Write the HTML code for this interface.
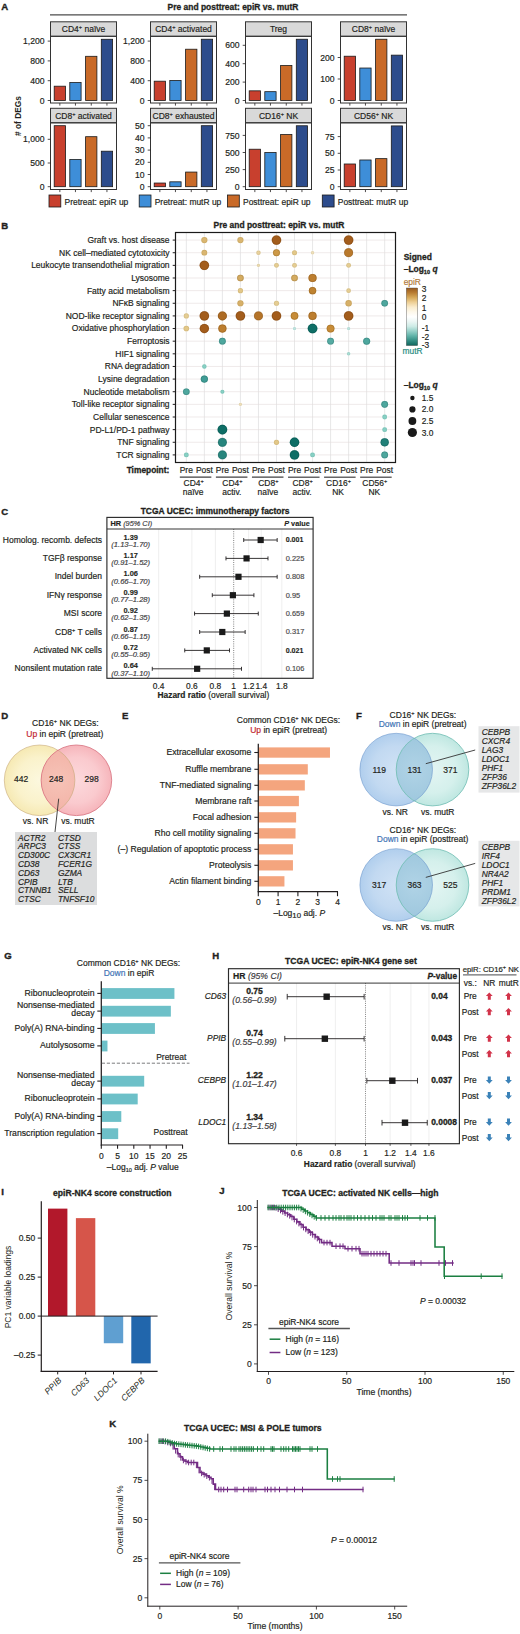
<!DOCTYPE html>
<html lang="en"><head><meta charset="utf-8"><title>Figure</title>
<style>
html,body{margin:0;padding:0;background:#fff;}
svg{display:block;font-family:"Liberation Sans",sans-serif;}
</style></head>
<body>
<svg width="520" height="1634" viewBox="0 0 520 1634" fill="#231f20">
<rect width="520" height="1634" fill="#fff"/>
<text x="1.20" y="10.20" font-size="9.6" font-weight="bold" stroke="#231f20" stroke-width="0.35">A</text>
<text x="233.00" y="10.00" font-size="8.45" text-anchor="middle" font-weight="bold" stroke="#231f20" stroke-width="0.3">Pre and posttreat: epiR vs. mutR</text>
<line x1="50.00" y1="14.90" x2="407.00" y2="14.90" stroke="#4d4d4d" stroke-width="1.2"/>
<rect x="50.50" y="21.80" width="66.00" height="14.50" fill="#d9d9d9" stroke="#333" stroke-width="1.0"/>
<text x="83.50" y="32.40" font-size="8.5" text-anchor="middle" stroke="#231f20" stroke-width="0.18" xml:space="preserve">CD4<tspan dy="-3.0" font-size="5.6">+</tspan><tspan dy="3.0"> naïve</tspan></text>
<rect x="54.20" y="86.19" width="11.30" height="14.31" fill="#c8402e" stroke="#1a1a1a" stroke-width="0.8"/>
<line x1="59.85" y1="103.00" x2="59.85" y2="105.60" stroke="#231f20" stroke-width="0.8"/>
<rect x="69.80" y="82.53" width="11.30" height="17.97" fill="#3e8ed8" stroke="#1a1a1a" stroke-width="0.8"/>
<line x1="75.45" y1="103.00" x2="75.45" y2="105.60" stroke="#231f20" stroke-width="0.8"/>
<rect x="85.60" y="56.30" width="11.30" height="44.20" fill="#c96a28" stroke="#1a1a1a" stroke-width="0.8"/>
<line x1="91.25" y1="103.00" x2="91.25" y2="105.60" stroke="#231f20" stroke-width="0.8"/>
<rect x="101.30" y="39.27" width="11.30" height="61.23" fill="#2d4c8c" stroke="#1a1a1a" stroke-width="0.8"/>
<line x1="106.95" y1="103.00" x2="106.95" y2="105.60" stroke="#231f20" stroke-width="0.8"/>
<rect x="50.50" y="36.30" width="66.00" height="66.70" fill="none" stroke="#333" stroke-width="1.0"/>
<line x1="47.70" y1="100.50" x2="50.50" y2="100.50" stroke="#231f20" stroke-width="0.8"/>
<text x="44.60" y="103.60" font-size="8.65" text-anchor="end" stroke="#231f20" stroke-width="0.18">0</text>
<line x1="47.70" y1="80.70" x2="50.50" y2="80.70" stroke="#231f20" stroke-width="0.8"/>
<text x="44.60" y="83.80" font-size="8.65" text-anchor="end" stroke="#231f20" stroke-width="0.18">400</text>
<line x1="47.70" y1="60.90" x2="50.50" y2="60.90" stroke="#231f20" stroke-width="0.8"/>
<text x="44.60" y="64.00" font-size="8.65" text-anchor="end" stroke="#231f20" stroke-width="0.18">800</text>
<line x1="47.70" y1="41.10" x2="50.50" y2="41.10" stroke="#231f20" stroke-width="0.8"/>
<text x="44.60" y="44.20" font-size="8.65" text-anchor="end" stroke="#231f20" stroke-width="0.18">1,200</text>
<rect x="150.50" y="21.80" width="66.00" height="14.50" fill="#d9d9d9" stroke="#333" stroke-width="1.0"/>
<text x="183.50" y="32.40" font-size="8.5" text-anchor="middle" stroke="#231f20" stroke-width="0.18" xml:space="preserve">CD4<tspan dy="-3.0" font-size="5.6">+</tspan><tspan dy="3.0"> activated</tspan></text>
<rect x="154.20" y="81.19" width="11.30" height="19.30" fill="#c8402e" stroke="#1a1a1a" stroke-width="0.8"/>
<line x1="159.85" y1="103.00" x2="159.85" y2="105.60" stroke="#231f20" stroke-width="0.8"/>
<rect x="169.80" y="80.50" width="11.30" height="20.00" fill="#3e8ed8" stroke="#1a1a1a" stroke-width="0.8"/>
<line x1="175.45" y1="103.00" x2="175.45" y2="105.60" stroke="#231f20" stroke-width="0.8"/>
<rect x="185.60" y="49.22" width="11.30" height="51.28" fill="#c96a28" stroke="#1a1a1a" stroke-width="0.8"/>
<line x1="191.25" y1="103.00" x2="191.25" y2="105.60" stroke="#231f20" stroke-width="0.8"/>
<rect x="201.30" y="39.22" width="11.30" height="61.28" fill="#2d4c8c" stroke="#1a1a1a" stroke-width="0.8"/>
<line x1="206.95" y1="103.00" x2="206.95" y2="105.60" stroke="#231f20" stroke-width="0.8"/>
<rect x="150.50" y="36.30" width="66.00" height="66.70" fill="none" stroke="#333" stroke-width="1.0"/>
<line x1="147.70" y1="100.50" x2="150.50" y2="100.50" stroke="#231f20" stroke-width="0.8"/>
<text x="144.60" y="103.60" font-size="8.65" text-anchor="end" stroke="#231f20" stroke-width="0.18">0</text>
<line x1="147.70" y1="80.70" x2="150.50" y2="80.70" stroke="#231f20" stroke-width="0.8"/>
<text x="144.60" y="83.80" font-size="8.65" text-anchor="end" stroke="#231f20" stroke-width="0.18">400</text>
<line x1="147.70" y1="60.90" x2="150.50" y2="60.90" stroke="#231f20" stroke-width="0.8"/>
<text x="144.60" y="64.00" font-size="8.65" text-anchor="end" stroke="#231f20" stroke-width="0.18">800</text>
<line x1="147.70" y1="41.10" x2="150.50" y2="41.10" stroke="#231f20" stroke-width="0.8"/>
<text x="144.60" y="44.20" font-size="8.65" text-anchor="end" stroke="#231f20" stroke-width="0.18">1,200</text>
<rect x="245.50" y="21.80" width="66.00" height="14.50" fill="#d9d9d9" stroke="#333" stroke-width="1.0"/>
<text x="278.50" y="32.40" font-size="8.5" text-anchor="middle" stroke="#231f20" stroke-width="0.18" xml:space="preserve">Treg</text>
<rect x="249.20" y="90.84" width="11.30" height="9.66" fill="#c8402e" stroke="#1a1a1a" stroke-width="0.8"/>
<line x1="254.85" y1="103.00" x2="254.85" y2="105.60" stroke="#231f20" stroke-width="0.8"/>
<rect x="264.80" y="91.67" width="11.30" height="8.83" fill="#3e8ed8" stroke="#1a1a1a" stroke-width="0.8"/>
<line x1="270.45" y1="103.00" x2="270.45" y2="105.60" stroke="#231f20" stroke-width="0.8"/>
<rect x="280.60" y="65.54" width="11.30" height="34.96" fill="#c96a28" stroke="#1a1a1a" stroke-width="0.8"/>
<line x1="286.25" y1="103.00" x2="286.25" y2="105.60" stroke="#231f20" stroke-width="0.8"/>
<rect x="296.30" y="39.23" width="11.30" height="61.27" fill="#2d4c8c" stroke="#1a1a1a" stroke-width="0.8"/>
<line x1="301.95" y1="103.00" x2="301.95" y2="105.60" stroke="#231f20" stroke-width="0.8"/>
<rect x="245.50" y="36.30" width="66.00" height="66.70" fill="none" stroke="#333" stroke-width="1.0"/>
<line x1="242.70" y1="100.50" x2="245.50" y2="100.50" stroke="#231f20" stroke-width="0.8"/>
<text x="239.60" y="103.60" font-size="8.65" text-anchor="end" stroke="#231f20" stroke-width="0.18">0</text>
<line x1="242.70" y1="82.10" x2="245.50" y2="82.10" stroke="#231f20" stroke-width="0.8"/>
<text x="239.60" y="85.20" font-size="8.65" text-anchor="end" stroke="#231f20" stroke-width="0.18">200</text>
<line x1="242.70" y1="63.70" x2="245.50" y2="63.70" stroke="#231f20" stroke-width="0.8"/>
<text x="239.60" y="66.80" font-size="8.65" text-anchor="end" stroke="#231f20" stroke-width="0.18">400</text>
<line x1="242.70" y1="45.30" x2="245.50" y2="45.30" stroke="#231f20" stroke-width="0.8"/>
<text x="239.60" y="48.40" font-size="8.65" text-anchor="end" stroke="#231f20" stroke-width="0.18">600</text>
<rect x="340.50" y="21.80" width="66.00" height="14.50" fill="#d9d9d9" stroke="#333" stroke-width="1.0"/>
<text x="373.50" y="32.40" font-size="8.5" text-anchor="middle" stroke="#231f20" stroke-width="0.18" xml:space="preserve">CD8<tspan dy="-3.0" font-size="5.6">+</tspan><tspan dy="3.0"> naïve</tspan></text>
<rect x="344.20" y="56.21" width="11.30" height="44.29" fill="#c8402e" stroke="#1a1a1a" stroke-width="0.8"/>
<line x1="349.85" y1="103.00" x2="349.85" y2="105.60" stroke="#231f20" stroke-width="0.8"/>
<rect x="359.80" y="68.03" width="11.30" height="32.47" fill="#3e8ed8" stroke="#1a1a1a" stroke-width="0.8"/>
<line x1="365.45" y1="103.00" x2="365.45" y2="105.60" stroke="#231f20" stroke-width="0.8"/>
<rect x="375.60" y="39.23" width="11.30" height="61.27" fill="#c96a28" stroke="#1a1a1a" stroke-width="0.8"/>
<line x1="381.25" y1="103.00" x2="381.25" y2="105.60" stroke="#231f20" stroke-width="0.8"/>
<rect x="391.30" y="55.14" width="11.30" height="45.36" fill="#2d4c8c" stroke="#1a1a1a" stroke-width="0.8"/>
<line x1="396.95" y1="103.00" x2="396.95" y2="105.60" stroke="#231f20" stroke-width="0.8"/>
<rect x="340.50" y="36.30" width="66.00" height="66.70" fill="none" stroke="#333" stroke-width="1.0"/>
<line x1="337.70" y1="100.50" x2="340.50" y2="100.50" stroke="#231f20" stroke-width="0.8"/>
<text x="334.60" y="103.60" font-size="8.65" text-anchor="end" stroke="#231f20" stroke-width="0.18">0</text>
<line x1="337.70" y1="79.00" x2="340.50" y2="79.00" stroke="#231f20" stroke-width="0.8"/>
<text x="334.60" y="82.10" font-size="8.65" text-anchor="end" stroke="#231f20" stroke-width="0.18">100</text>
<line x1="337.70" y1="57.50" x2="340.50" y2="57.50" stroke="#231f20" stroke-width="0.8"/>
<text x="334.60" y="60.60" font-size="8.65" text-anchor="end" stroke="#231f20" stroke-width="0.18">200</text>
<rect x="50.50" y="108.30" width="66.00" height="14.50" fill="#d9d9d9" stroke="#333" stroke-width="1.0"/>
<text x="83.50" y="118.90" font-size="8.5" text-anchor="middle" stroke="#231f20" stroke-width="0.18" xml:space="preserve">CD8<tspan dy="-3.0" font-size="5.6">+</tspan><tspan dy="3.0"> activated</tspan></text>
<rect x="54.20" y="125.70" width="11.30" height="61.00" fill="#c8402e" stroke="#1a1a1a" stroke-width="0.8"/>
<line x1="59.85" y1="189.50" x2="59.85" y2="192.10" stroke="#231f20" stroke-width="0.8"/>
<rect x="69.80" y="159.49" width="11.30" height="27.21" fill="#3e8ed8" stroke="#1a1a1a" stroke-width="0.8"/>
<line x1="75.45" y1="189.50" x2="75.45" y2="192.10" stroke="#231f20" stroke-width="0.8"/>
<rect x="85.60" y="136.69" width="11.30" height="50.01" fill="#c96a28" stroke="#1a1a1a" stroke-width="0.8"/>
<line x1="91.25" y1="189.50" x2="91.25" y2="192.10" stroke="#231f20" stroke-width="0.8"/>
<rect x="101.30" y="151.20" width="11.30" height="35.50" fill="#2d4c8c" stroke="#1a1a1a" stroke-width="0.8"/>
<line x1="106.95" y1="189.50" x2="106.95" y2="192.10" stroke="#231f20" stroke-width="0.8"/>
<rect x="50.50" y="122.80" width="66.00" height="66.70" fill="none" stroke="#333" stroke-width="1.0"/>
<line x1="47.70" y1="186.70" x2="50.50" y2="186.70" stroke="#231f20" stroke-width="0.8"/>
<text x="44.60" y="189.80" font-size="8.65" text-anchor="end" stroke="#231f20" stroke-width="0.18">0</text>
<line x1="47.70" y1="163.00" x2="50.50" y2="163.00" stroke="#231f20" stroke-width="0.8"/>
<text x="44.60" y="166.10" font-size="8.65" text-anchor="end" stroke="#231f20" stroke-width="0.18">500</text>
<line x1="47.70" y1="139.30" x2="50.50" y2="139.30" stroke="#231f20" stroke-width="0.8"/>
<text x="44.60" y="142.40" font-size="8.65" text-anchor="end" stroke="#231f20" stroke-width="0.18">1,000</text>
<rect x="150.50" y="108.30" width="66.00" height="14.50" fill="#d9d9d9" stroke="#333" stroke-width="1.0"/>
<text x="183.50" y="118.90" font-size="8.5" text-anchor="middle" stroke="#231f20" stroke-width="0.18" xml:space="preserve">CD8<tspan dy="-3.0" font-size="5.6">+</tspan><tspan dy="3.0"> exhausted</tspan></text>
<rect x="154.20" y="183.04" width="11.30" height="3.66" fill="#c8402e" stroke="#1a1a1a" stroke-width="0.8"/>
<line x1="159.85" y1="189.50" x2="159.85" y2="192.10" stroke="#231f20" stroke-width="0.8"/>
<rect x="169.80" y="181.82" width="11.30" height="4.88" fill="#3e8ed8" stroke="#1a1a1a" stroke-width="0.8"/>
<line x1="175.45" y1="189.50" x2="175.45" y2="192.10" stroke="#231f20" stroke-width="0.8"/>
<rect x="185.60" y="172.06" width="11.30" height="14.64" fill="#c96a28" stroke="#1a1a1a" stroke-width="0.8"/>
<line x1="191.25" y1="189.50" x2="191.25" y2="192.10" stroke="#231f20" stroke-width="0.8"/>
<rect x="201.30" y="125.70" width="11.30" height="61.00" fill="#2d4c8c" stroke="#1a1a1a" stroke-width="0.8"/>
<line x1="206.95" y1="189.50" x2="206.95" y2="192.10" stroke="#231f20" stroke-width="0.8"/>
<rect x="150.50" y="122.80" width="66.00" height="66.70" fill="none" stroke="#333" stroke-width="1.0"/>
<line x1="147.70" y1="186.70" x2="150.50" y2="186.70" stroke="#231f20" stroke-width="0.8"/>
<text x="144.60" y="189.80" font-size="8.65" text-anchor="end" stroke="#231f20" stroke-width="0.18">0</text>
<line x1="147.70" y1="174.50" x2="150.50" y2="174.50" stroke="#231f20" stroke-width="0.8"/>
<text x="144.60" y="177.60" font-size="8.65" text-anchor="end" stroke="#231f20" stroke-width="0.18">10</text>
<line x1="147.70" y1="162.30" x2="150.50" y2="162.30" stroke="#231f20" stroke-width="0.8"/>
<text x="144.60" y="165.40" font-size="8.65" text-anchor="end" stroke="#231f20" stroke-width="0.18">20</text>
<line x1="147.70" y1="150.10" x2="150.50" y2="150.10" stroke="#231f20" stroke-width="0.8"/>
<text x="144.60" y="153.20" font-size="8.65" text-anchor="end" stroke="#231f20" stroke-width="0.18">30</text>
<line x1="147.70" y1="137.90" x2="150.50" y2="137.90" stroke="#231f20" stroke-width="0.8"/>
<text x="144.60" y="141.00" font-size="8.65" text-anchor="end" stroke="#231f20" stroke-width="0.18">40</text>
<line x1="147.70" y1="125.70" x2="150.50" y2="125.70" stroke="#231f20" stroke-width="0.8"/>
<text x="144.60" y="128.80" font-size="8.65" text-anchor="end" stroke="#231f20" stroke-width="0.18">50</text>
<rect x="245.50" y="108.30" width="66.00" height="14.50" fill="#d9d9d9" stroke="#333" stroke-width="1.0"/>
<text x="278.50" y="118.90" font-size="8.5" text-anchor="middle" stroke="#231f20" stroke-width="0.18" xml:space="preserve">CD16<tspan dy="-3.0" font-size="5.6">+</tspan><tspan dy="3.0"> NK</tspan></text>
<rect x="249.20" y="149.22" width="11.30" height="37.48" fill="#c8402e" stroke="#1a1a1a" stroke-width="0.8"/>
<line x1="254.85" y1="189.50" x2="254.85" y2="192.10" stroke="#231f20" stroke-width="0.8"/>
<rect x="264.80" y="152.50" width="11.30" height="34.20" fill="#3e8ed8" stroke="#1a1a1a" stroke-width="0.8"/>
<line x1="270.45" y1="189.50" x2="270.45" y2="192.10" stroke="#231f20" stroke-width="0.8"/>
<rect x="280.60" y="134.51" width="11.30" height="52.19" fill="#c96a28" stroke="#1a1a1a" stroke-width="0.8"/>
<line x1="286.25" y1="189.50" x2="286.25" y2="192.10" stroke="#231f20" stroke-width="0.8"/>
<rect x="296.30" y="125.76" width="11.30" height="60.94" fill="#2d4c8c" stroke="#1a1a1a" stroke-width="0.8"/>
<line x1="301.95" y1="189.50" x2="301.95" y2="192.10" stroke="#231f20" stroke-width="0.8"/>
<rect x="245.50" y="122.80" width="66.00" height="66.70" fill="none" stroke="#333" stroke-width="1.0"/>
<line x1="242.70" y1="186.70" x2="245.50" y2="186.70" stroke="#231f20" stroke-width="0.8"/>
<text x="239.60" y="189.80" font-size="8.65" text-anchor="end" stroke="#231f20" stroke-width="0.18">0</text>
<line x1="242.70" y1="169.60" x2="245.50" y2="169.60" stroke="#231f20" stroke-width="0.8"/>
<text x="239.60" y="172.70" font-size="8.65" text-anchor="end" stroke="#231f20" stroke-width="0.18">250</text>
<line x1="242.70" y1="152.50" x2="245.50" y2="152.50" stroke="#231f20" stroke-width="0.8"/>
<text x="239.60" y="155.60" font-size="8.65" text-anchor="end" stroke="#231f20" stroke-width="0.18">500</text>
<line x1="242.70" y1="135.40" x2="245.50" y2="135.40" stroke="#231f20" stroke-width="0.8"/>
<text x="239.60" y="138.50" font-size="8.65" text-anchor="end" stroke="#231f20" stroke-width="0.18">750</text>
<rect x="340.50" y="108.30" width="66.00" height="14.50" fill="#d9d9d9" stroke="#333" stroke-width="1.0"/>
<text x="373.50" y="118.90" font-size="8.5" text-anchor="middle" stroke="#231f20" stroke-width="0.18" xml:space="preserve">CD56<tspan dy="-3.0" font-size="5.6">+</tspan><tspan dy="3.0"> NK</tspan></text>
<rect x="344.20" y="163.99" width="11.30" height="22.71" fill="#c8402e" stroke="#1a1a1a" stroke-width="0.8"/>
<line x1="349.85" y1="189.50" x2="349.85" y2="192.10" stroke="#231f20" stroke-width="0.8"/>
<rect x="359.80" y="159.98" width="11.30" height="26.72" fill="#3e8ed8" stroke="#1a1a1a" stroke-width="0.8"/>
<line x1="365.45" y1="189.50" x2="365.45" y2="192.10" stroke="#231f20" stroke-width="0.8"/>
<rect x="375.60" y="158.64" width="11.30" height="28.06" fill="#c96a28" stroke="#1a1a1a" stroke-width="0.8"/>
<line x1="381.25" y1="189.50" x2="381.25" y2="192.10" stroke="#231f20" stroke-width="0.8"/>
<rect x="391.30" y="125.91" width="11.30" height="60.79" fill="#2d4c8c" stroke="#1a1a1a" stroke-width="0.8"/>
<line x1="396.95" y1="189.50" x2="396.95" y2="192.10" stroke="#231f20" stroke-width="0.8"/>
<rect x="340.50" y="122.80" width="66.00" height="66.70" fill="none" stroke="#333" stroke-width="1.0"/>
<line x1="337.70" y1="186.70" x2="340.50" y2="186.70" stroke="#231f20" stroke-width="0.8"/>
<text x="334.60" y="189.80" font-size="8.65" text-anchor="end" stroke="#231f20" stroke-width="0.18">0</text>
<line x1="337.70" y1="170.00" x2="340.50" y2="170.00" stroke="#231f20" stroke-width="0.8"/>
<text x="334.60" y="173.10" font-size="8.65" text-anchor="end" stroke="#231f20" stroke-width="0.18">25</text>
<line x1="337.70" y1="153.30" x2="340.50" y2="153.30" stroke="#231f20" stroke-width="0.8"/>
<text x="334.60" y="156.40" font-size="8.65" text-anchor="end" stroke="#231f20" stroke-width="0.18">50</text>
<line x1="337.70" y1="136.60" x2="340.50" y2="136.60" stroke="#231f20" stroke-width="0.8"/>
<text x="334.60" y="139.70" font-size="8.65" text-anchor="end" stroke="#231f20" stroke-width="0.18">75</text>
<text transform="translate(21.3,116) rotate(-90)" font-size="8.4" font-weight="bold" text-anchor="middle" fill="#231f20"># of DEGs</text>
<rect x="49.00" y="195.00" width="11.80" height="12.00" fill="#c8402e" stroke="#1a1a1a" stroke-width="0.8"/>
<text x="64.50" y="204.50" font-size="8.45" stroke="#231f20" stroke-width="0.18">Pretreat: epiR up</text>
<rect x="139.20" y="195.00" width="11.80" height="12.00" fill="#3e8ed8" stroke="#1a1a1a" stroke-width="0.8"/>
<text x="154.70" y="204.50" font-size="8.45" stroke="#231f20" stroke-width="0.18">Pretreat: mutR up</text>
<rect x="227.50" y="195.00" width="11.80" height="12.00" fill="#c96a28" stroke="#1a1a1a" stroke-width="0.8"/>
<text x="243.00" y="204.50" font-size="8.45" stroke="#231f20" stroke-width="0.18">Posttreat: epiR up</text>
<rect x="322.30" y="195.00" width="11.80" height="12.00" fill="#2d4c8c" stroke="#1a1a1a" stroke-width="0.8"/>
<text x="337.80" y="204.50" font-size="8.45" stroke="#231f20" stroke-width="0.18">Posttreat: mutR up</text>
<text x="1.20" y="228.60" font-size="9.6" font-weight="bold" stroke="#231f20" stroke-width="0.35">B</text>
<text x="279.00" y="228.00" font-size="8.45" text-anchor="middle" font-weight="bold" stroke="#231f20" stroke-width="0.3">Pre and posttreat: epiR vs. mutR</text>
<line x1="186.32" y1="232.50" x2="186.32" y2="462.50" stroke="#d6d6d8" stroke-width="0.6"/>
<line x1="204.35" y1="232.50" x2="204.35" y2="462.50" stroke="#d6d6d8" stroke-width="0.6"/>
<line x1="222.39" y1="232.50" x2="222.39" y2="462.50" stroke="#d6d6d8" stroke-width="0.6"/>
<line x1="240.42" y1="232.50" x2="240.42" y2="462.50" stroke="#d6d6d8" stroke-width="0.6"/>
<line x1="258.45" y1="232.50" x2="258.45" y2="462.50" stroke="#d6d6d8" stroke-width="0.6"/>
<line x1="276.48" y1="232.50" x2="276.48" y2="462.50" stroke="#d6d6d8" stroke-width="0.6"/>
<line x1="294.52" y1="232.50" x2="294.52" y2="462.50" stroke="#d6d6d8" stroke-width="0.6"/>
<line x1="312.55" y1="232.50" x2="312.55" y2="462.50" stroke="#d6d6d8" stroke-width="0.6"/>
<line x1="330.58" y1="232.50" x2="330.58" y2="462.50" stroke="#d6d6d8" stroke-width="0.6"/>
<line x1="348.61" y1="232.50" x2="348.61" y2="462.50" stroke="#d6d6d8" stroke-width="0.6"/>
<line x1="366.65" y1="232.50" x2="366.65" y2="462.50" stroke="#d6d6d8" stroke-width="0.6"/>
<line x1="384.68" y1="232.50" x2="384.68" y2="462.50" stroke="#d6d6d8" stroke-width="0.6"/>
<line x1="175.50" y1="240.08" x2="395.50" y2="240.08" stroke="#e4dcdc" stroke-width="0.6"/>
<line x1="175.50" y1="252.72" x2="395.50" y2="252.72" stroke="#e4dcdc" stroke-width="0.6"/>
<line x1="175.50" y1="265.36" x2="395.50" y2="265.36" stroke="#e4dcdc" stroke-width="0.6"/>
<line x1="175.50" y1="277.99" x2="395.50" y2="277.99" stroke="#e4dcdc" stroke-width="0.6"/>
<line x1="175.50" y1="290.63" x2="395.50" y2="290.63" stroke="#e4dcdc" stroke-width="0.6"/>
<line x1="175.50" y1="303.27" x2="395.50" y2="303.27" stroke="#e4dcdc" stroke-width="0.6"/>
<line x1="175.50" y1="315.91" x2="395.50" y2="315.91" stroke="#e4dcdc" stroke-width="0.6"/>
<line x1="175.50" y1="328.54" x2="395.50" y2="328.54" stroke="#e4dcdc" stroke-width="0.6"/>
<line x1="175.50" y1="341.18" x2="395.50" y2="341.18" stroke="#e4dcdc" stroke-width="0.6"/>
<line x1="175.50" y1="353.82" x2="395.50" y2="353.82" stroke="#e4dcdc" stroke-width="0.6"/>
<line x1="175.50" y1="366.46" x2="395.50" y2="366.46" stroke="#e4dcdc" stroke-width="0.6"/>
<line x1="175.50" y1="379.09" x2="395.50" y2="379.09" stroke="#e4dcdc" stroke-width="0.6"/>
<line x1="175.50" y1="391.73" x2="395.50" y2="391.73" stroke="#e4dcdc" stroke-width="0.6"/>
<line x1="175.50" y1="404.37" x2="395.50" y2="404.37" stroke="#e4dcdc" stroke-width="0.6"/>
<line x1="175.50" y1="417.01" x2="395.50" y2="417.01" stroke="#e4dcdc" stroke-width="0.6"/>
<line x1="175.50" y1="429.64" x2="395.50" y2="429.64" stroke="#e4dcdc" stroke-width="0.6"/>
<line x1="175.50" y1="442.28" x2="395.50" y2="442.28" stroke="#e4dcdc" stroke-width="0.6"/>
<line x1="175.50" y1="454.92" x2="395.50" y2="454.92" stroke="#e4dcdc" stroke-width="0.6"/>
<circle cx="204.35" cy="240.08" r="3.60" fill="#ffffff" fill-opacity="0.85"/>
<circle cx="204.35" cy="240.08" r="3.10" fill="#d8b268" fill-opacity="0.95"/>
<circle cx="204.35" cy="240.08" r="2.80" fill="none" stroke="#9b804a" stroke-width="0.6" stroke-opacity="0.35"/>
<circle cx="240.42" cy="240.08" r="3.60" fill="#ffffff" fill-opacity="0.85"/>
<circle cx="240.42" cy="240.08" r="3.10" fill="#d8b268" fill-opacity="0.95"/>
<circle cx="240.42" cy="240.08" r="2.80" fill="none" stroke="#9b804a" stroke-width="0.6" stroke-opacity="0.35"/>
<circle cx="276.48" cy="240.08" r="5.20" fill="#ffffff" fill-opacity="0.85"/>
<circle cx="276.48" cy="240.08" r="4.70" fill="#9e5410" fill-opacity="0.95"/>
<circle cx="276.48" cy="240.08" r="4.40" fill="none" stroke="#713c0b" stroke-width="0.6" stroke-opacity="0.70"/>
<circle cx="348.61" cy="240.08" r="5.20" fill="#ffffff" fill-opacity="0.85"/>
<circle cx="348.61" cy="240.08" r="4.70" fill="#9e5410" fill-opacity="0.95"/>
<circle cx="348.61" cy="240.08" r="4.40" fill="none" stroke="#713c0b" stroke-width="0.6" stroke-opacity="0.70"/>
<circle cx="204.35" cy="252.72" r="3.40" fill="#ffffff" fill-opacity="0.85"/>
<circle cx="204.35" cy="252.72" r="2.90" fill="#d8b268" fill-opacity="0.95"/>
<circle cx="204.35" cy="252.72" r="2.60" fill="none" stroke="#9b804a" stroke-width="0.6" stroke-opacity="0.35"/>
<circle cx="258.45" cy="252.72" r="2.70" fill="#ffffff" fill-opacity="0.85"/>
<circle cx="258.45" cy="252.72" r="2.20" fill="#e7cf97" fill-opacity="0.95"/>
<circle cx="258.45" cy="252.72" r="1.90" fill="none" stroke="#a6956c" stroke-width="0.6" stroke-opacity="0.35"/>
<circle cx="276.48" cy="252.72" r="4.00" fill="#ffffff" fill-opacity="0.85"/>
<circle cx="276.48" cy="252.72" r="3.50" fill="#ca933d" fill-opacity="0.95"/>
<circle cx="276.48" cy="252.72" r="3.20" fill="none" stroke="#91692b" stroke-width="0.6" stroke-opacity="0.70"/>
<circle cx="294.52" cy="252.72" r="3.00" fill="#ffffff" fill-opacity="0.85"/>
<circle cx="294.52" cy="252.72" r="2.50" fill="#e1c582" fill-opacity="0.95"/>
<circle cx="294.52" cy="252.72" r="2.20" fill="none" stroke="#a28d5d" stroke-width="0.6" stroke-opacity="0.35"/>
<circle cx="312.55" cy="252.72" r="2.20" fill="#ffffff" fill-opacity="0.85"/>
<circle cx="312.55" cy="252.72" r="1.70" fill="#efdfb6" fill-opacity="0.95"/>
<circle cx="312.55" cy="252.72" r="1.40" fill="none" stroke="#aca083" stroke-width="0.6" stroke-opacity="0.35"/>
<circle cx="348.61" cy="252.72" r="4.90" fill="#ffffff" fill-opacity="0.85"/>
<circle cx="348.61" cy="252.72" r="4.40" fill="#b57221" fill-opacity="0.95"/>
<circle cx="348.61" cy="252.72" r="4.10" fill="none" stroke="#825217" stroke-width="0.6" stroke-opacity="0.70"/>
<circle cx="204.35" cy="265.36" r="5.20" fill="#ffffff" fill-opacity="0.85"/>
<circle cx="204.35" cy="265.36" r="4.70" fill="#9e5410" fill-opacity="0.95"/>
<circle cx="204.35" cy="265.36" r="4.40" fill="none" stroke="#713c0b" stroke-width="0.6" stroke-opacity="0.70"/>
<circle cx="258.45" cy="265.36" r="2.10" fill="#ffffff" fill-opacity="0.85"/>
<circle cx="258.45" cy="265.36" r="1.60" fill="#ecdaab" fill-opacity="0.95"/>
<circle cx="258.45" cy="265.36" r="1.30" fill="none" stroke="#a99c7b" stroke-width="0.6" stroke-opacity="0.35"/>
<circle cx="276.48" cy="265.36" r="2.90" fill="#ffffff" fill-opacity="0.85"/>
<circle cx="276.48" cy="265.36" r="2.40" fill="#e4ca8c" fill-opacity="0.95"/>
<circle cx="276.48" cy="265.36" r="2.10" fill="none" stroke="#a49164" stroke-width="0.6" stroke-opacity="0.35"/>
<circle cx="294.52" cy="265.36" r="2.90" fill="#ffffff" fill-opacity="0.85"/>
<circle cx="294.52" cy="265.36" r="2.40" fill="#e4ca8c" fill-opacity="0.95"/>
<circle cx="294.52" cy="265.36" r="2.10" fill="none" stroke="#a49164" stroke-width="0.6" stroke-opacity="0.35"/>
<circle cx="348.61" cy="265.36" r="2.90" fill="#ffffff" fill-opacity="0.85"/>
<circle cx="348.61" cy="265.36" r="2.40" fill="#e4ca8c" fill-opacity="0.95"/>
<circle cx="348.61" cy="265.36" r="2.10" fill="none" stroke="#a49164" stroke-width="0.6" stroke-opacity="0.35"/>
<circle cx="240.42" cy="277.99" r="3.80" fill="#ffffff" fill-opacity="0.85"/>
<circle cx="240.42" cy="277.99" r="3.30" fill="#d2a657" fill-opacity="0.95"/>
<circle cx="240.42" cy="277.99" r="3.00" fill="none" stroke="#97773e" stroke-width="0.6" stroke-opacity="0.70"/>
<circle cx="294.52" cy="277.99" r="3.80" fill="#ffffff" fill-opacity="0.85"/>
<circle cx="294.52" cy="277.99" r="3.30" fill="#d2a657" fill-opacity="0.95"/>
<circle cx="294.52" cy="277.99" r="3.00" fill="none" stroke="#97773e" stroke-width="0.6" stroke-opacity="0.70"/>
<circle cx="312.55" cy="277.99" r="4.60" fill="#ffffff" fill-opacity="0.85"/>
<circle cx="312.55" cy="277.99" r="4.10" fill="#b97724" fill-opacity="0.95"/>
<circle cx="312.55" cy="277.99" r="3.80" fill="none" stroke="#855519" stroke-width="0.6" stroke-opacity="0.70"/>
<circle cx="240.42" cy="290.63" r="3.10" fill="#ffffff" fill-opacity="0.85"/>
<circle cx="240.42" cy="290.63" r="2.60" fill="#e1c582" fill-opacity="0.95"/>
<circle cx="240.42" cy="290.63" r="2.30" fill="none" stroke="#a28d5d" stroke-width="0.6" stroke-opacity="0.35"/>
<circle cx="312.55" cy="290.63" r="4.20" fill="#ffffff" fill-opacity="0.85"/>
<circle cx="312.55" cy="290.63" r="3.70" fill="#bc7c26" fill-opacity="0.95"/>
<circle cx="312.55" cy="290.63" r="3.40" fill="none" stroke="#87591b" stroke-width="0.6" stroke-opacity="0.70"/>
<circle cx="348.61" cy="290.63" r="2.80" fill="#ffffff" fill-opacity="0.85"/>
<circle cx="348.61" cy="290.63" r="2.30" fill="#e4ca8c" fill-opacity="0.95"/>
<circle cx="348.61" cy="290.63" r="2.00" fill="none" stroke="#a49164" stroke-width="0.6" stroke-opacity="0.35"/>
<circle cx="240.42" cy="303.27" r="3.60" fill="#ffffff" fill-opacity="0.85"/>
<circle cx="240.42" cy="303.27" r="3.10" fill="#d5ac60" fill-opacity="0.95"/>
<circle cx="240.42" cy="303.27" r="2.80" fill="none" stroke="#997b45" stroke-width="0.6" stroke-opacity="0.35"/>
<circle cx="276.48" cy="303.27" r="3.10" fill="#ffffff" fill-opacity="0.85"/>
<circle cx="276.48" cy="303.27" r="2.60" fill="#e4ca8c" fill-opacity="0.95"/>
<circle cx="276.48" cy="303.27" r="2.30" fill="none" stroke="#a49164" stroke-width="0.6" stroke-opacity="0.35"/>
<circle cx="348.61" cy="303.27" r="3.70" fill="#ffffff" fill-opacity="0.85"/>
<circle cx="348.61" cy="303.27" r="3.20" fill="#d5ac60" fill-opacity="0.95"/>
<circle cx="348.61" cy="303.27" r="2.90" fill="none" stroke="#997b45" stroke-width="0.6" stroke-opacity="0.35"/>
<circle cx="384.68" cy="303.27" r="3.80" fill="#ffffff" fill-opacity="0.85"/>
<circle cx="384.68" cy="303.27" r="3.30" fill="#44a299" fill-opacity="0.95"/>
<circle cx="384.68" cy="303.27" r="3.00" fill="none" stroke="#30746e" stroke-width="0.6" stroke-opacity="0.70"/>
<circle cx="186.32" cy="315.91" r="3.10" fill="#ffffff" fill-opacity="0.85"/>
<circle cx="186.32" cy="315.91" r="2.60" fill="#e4ca8c" fill-opacity="0.95"/>
<circle cx="186.32" cy="315.91" r="2.30" fill="none" stroke="#a49164" stroke-width="0.6" stroke-opacity="0.35"/>
<circle cx="204.35" cy="315.91" r="5.20" fill="#ffffff" fill-opacity="0.85"/>
<circle cx="204.35" cy="315.91" r="4.70" fill="#9e5410" fill-opacity="0.95"/>
<circle cx="204.35" cy="315.91" r="4.40" fill="none" stroke="#713c0b" stroke-width="0.6" stroke-opacity="0.70"/>
<circle cx="222.39" cy="315.91" r="5.00" fill="#ffffff" fill-opacity="0.85"/>
<circle cx="222.39" cy="315.91" r="4.50" fill="#a96318" fill-opacity="0.95"/>
<circle cx="222.39" cy="315.91" r="4.20" fill="none" stroke="#794711" stroke-width="0.6" stroke-opacity="0.70"/>
<circle cx="240.42" cy="315.91" r="5.20" fill="#ffffff" fill-opacity="0.85"/>
<circle cx="240.42" cy="315.91" r="4.70" fill="#9e5410" fill-opacity="0.95"/>
<circle cx="240.42" cy="315.91" r="4.40" fill="none" stroke="#713c0b" stroke-width="0.6" stroke-opacity="0.70"/>
<circle cx="258.45" cy="315.91" r="4.90" fill="#ffffff" fill-opacity="0.85"/>
<circle cx="258.45" cy="315.91" r="4.40" fill="#b16d1e" fill-opacity="0.95"/>
<circle cx="258.45" cy="315.91" r="4.10" fill="none" stroke="#7f4e15" stroke-width="0.6" stroke-opacity="0.70"/>
<circle cx="276.48" cy="315.91" r="5.20" fill="#ffffff" fill-opacity="0.85"/>
<circle cx="276.48" cy="315.91" r="4.70" fill="#9e5410" fill-opacity="0.95"/>
<circle cx="276.48" cy="315.91" r="4.40" fill="none" stroke="#713c0b" stroke-width="0.6" stroke-opacity="0.70"/>
<circle cx="294.52" cy="315.91" r="4.30" fill="#ffffff" fill-opacity="0.85"/>
<circle cx="294.52" cy="315.91" r="3.80" fill="#c4862c" fill-opacity="0.95"/>
<circle cx="294.52" cy="315.91" r="3.50" fill="none" stroke="#8d601f" stroke-width="0.6" stroke-opacity="0.70"/>
<circle cx="312.55" cy="315.91" r="4.60" fill="#ffffff" fill-opacity="0.85"/>
<circle cx="312.55" cy="315.91" r="4.10" fill="#b97724" fill-opacity="0.95"/>
<circle cx="312.55" cy="315.91" r="3.80" fill="none" stroke="#855519" stroke-width="0.6" stroke-opacity="0.70"/>
<circle cx="348.61" cy="315.91" r="5.20" fill="#ffffff" fill-opacity="0.85"/>
<circle cx="348.61" cy="315.91" r="4.70" fill="#9e5410" fill-opacity="0.95"/>
<circle cx="348.61" cy="315.91" r="4.40" fill="none" stroke="#713c0b" stroke-width="0.6" stroke-opacity="0.70"/>
<circle cx="186.32" cy="328.54" r="3.30" fill="#ffffff" fill-opacity="0.85"/>
<circle cx="186.32" cy="328.54" r="2.80" fill="#e1c582" fill-opacity="0.95"/>
<circle cx="186.32" cy="328.54" r="2.50" fill="none" stroke="#a28d5d" stroke-width="0.6" stroke-opacity="0.35"/>
<circle cx="204.35" cy="328.54" r="5.10" fill="#ffffff" fill-opacity="0.85"/>
<circle cx="204.35" cy="328.54" r="4.60" fill="#9e5410" fill-opacity="0.95"/>
<circle cx="204.35" cy="328.54" r="4.30" fill="none" stroke="#713c0b" stroke-width="0.6" stroke-opacity="0.70"/>
<circle cx="222.39" cy="328.54" r="4.60" fill="#ffffff" fill-opacity="0.85"/>
<circle cx="222.39" cy="328.54" r="4.10" fill="#b97724" fill-opacity="0.95"/>
<circle cx="222.39" cy="328.54" r="3.80" fill="none" stroke="#855519" stroke-width="0.6" stroke-opacity="0.70"/>
<circle cx="294.52" cy="328.54" r="2.10" fill="#ffffff" fill-opacity="0.85"/>
<circle cx="294.52" cy="328.54" r="1.60" fill="#bbe5df" fill-opacity="0.95"/>
<circle cx="294.52" cy="328.54" r="1.30" fill="none" stroke="#86a4a0" stroke-width="0.6" stroke-opacity="0.35"/>
<circle cx="312.55" cy="328.54" r="5.30" fill="#ffffff" fill-opacity="0.85"/>
<circle cx="312.55" cy="328.54" r="4.80" fill="#01665e" fill-opacity="0.95"/>
<circle cx="312.55" cy="328.54" r="4.50" fill="none" stroke="#004943" stroke-width="0.6" stroke-opacity="0.70"/>
<circle cx="330.58" cy="328.54" r="4.40" fill="#ffffff" fill-opacity="0.85"/>
<circle cx="330.58" cy="328.54" r="3.90" fill="#c4862c" fill-opacity="0.95"/>
<circle cx="330.58" cy="328.54" r="3.60" fill="none" stroke="#8d601f" stroke-width="0.6" stroke-opacity="0.70"/>
<circle cx="348.61" cy="328.54" r="2.10" fill="#ffffff" fill-opacity="0.85"/>
<circle cx="348.61" cy="328.54" r="1.60" fill="#bbe5df" fill-opacity="0.95"/>
<circle cx="348.61" cy="328.54" r="1.30" fill="none" stroke="#86a4a0" stroke-width="0.6" stroke-opacity="0.35"/>
<circle cx="222.39" cy="341.18" r="3.90" fill="#ffffff" fill-opacity="0.85"/>
<circle cx="222.39" cy="341.18" r="3.40" fill="#44a299" fill-opacity="0.95"/>
<circle cx="222.39" cy="341.18" r="3.10" fill="none" stroke="#30746e" stroke-width="0.6" stroke-opacity="0.70"/>
<circle cx="330.58" cy="341.18" r="3.90" fill="#ffffff" fill-opacity="0.85"/>
<circle cx="330.58" cy="341.18" r="3.40" fill="#4ca79e" fill-opacity="0.95"/>
<circle cx="330.58" cy="341.18" r="3.10" fill="none" stroke="#367871" stroke-width="0.6" stroke-opacity="0.70"/>
<circle cx="366.65" cy="341.18" r="4.00" fill="#ffffff" fill-opacity="0.85"/>
<circle cx="366.65" cy="341.18" r="3.50" fill="#44a299" fill-opacity="0.95"/>
<circle cx="366.65" cy="341.18" r="3.20" fill="none" stroke="#30746e" stroke-width="0.6" stroke-opacity="0.70"/>
<circle cx="348.61" cy="353.82" r="2.20" fill="#ffffff" fill-opacity="0.85"/>
<circle cx="348.61" cy="353.82" r="1.70" fill="#a4dcd3" fill-opacity="0.95"/>
<circle cx="348.61" cy="353.82" r="1.40" fill="none" stroke="#769e97" stroke-width="0.6" stroke-opacity="0.35"/>
<circle cx="204.35" cy="366.46" r="2.70" fill="#ffffff" fill-opacity="0.85"/>
<circle cx="204.35" cy="366.46" r="2.20" fill="#80cdc1" fill-opacity="0.95"/>
<circle cx="204.35" cy="366.46" r="1.90" fill="none" stroke="#5c938a" stroke-width="0.6" stroke-opacity="0.35"/>
<circle cx="204.35" cy="379.09" r="4.10" fill="#ffffff" fill-opacity="0.85"/>
<circle cx="204.35" cy="379.09" r="3.60" fill="#35978f" fill-opacity="0.95"/>
<circle cx="204.35" cy="379.09" r="3.30" fill="none" stroke="#266c66" stroke-width="0.6" stroke-opacity="0.70"/>
<circle cx="186.32" cy="391.73" r="3.80" fill="#ffffff" fill-opacity="0.85"/>
<circle cx="186.32" cy="391.73" r="3.30" fill="#44a299" fill-opacity="0.95"/>
<circle cx="186.32" cy="391.73" r="3.00" fill="none" stroke="#30746e" stroke-width="0.6" stroke-opacity="0.70"/>
<circle cx="222.39" cy="391.73" r="2.50" fill="#ffffff" fill-opacity="0.85"/>
<circle cx="222.39" cy="391.73" r="2.00" fill="#80cdc1" fill-opacity="0.95"/>
<circle cx="222.39" cy="391.73" r="1.70" fill="none" stroke="#5c938a" stroke-width="0.6" stroke-opacity="0.35"/>
<circle cx="240.42" cy="404.37" r="2.10" fill="#ffffff" fill-opacity="0.85"/>
<circle cx="240.42" cy="404.37" r="1.60" fill="#efdfb6" fill-opacity="0.95"/>
<circle cx="240.42" cy="404.37" r="1.30" fill="none" stroke="#aca083" stroke-width="0.6" stroke-opacity="0.35"/>
<circle cx="384.68" cy="404.37" r="3.90" fill="#ffffff" fill-opacity="0.85"/>
<circle cx="384.68" cy="404.37" r="3.40" fill="#44a299" fill-opacity="0.95"/>
<circle cx="384.68" cy="404.37" r="3.10" fill="none" stroke="#30746e" stroke-width="0.6" stroke-opacity="0.70"/>
<circle cx="384.68" cy="417.01" r="2.90" fill="#ffffff" fill-opacity="0.85"/>
<circle cx="384.68" cy="417.01" r="2.40" fill="#80cdc1" fill-opacity="0.95"/>
<circle cx="384.68" cy="417.01" r="2.10" fill="none" stroke="#5c938a" stroke-width="0.6" stroke-opacity="0.35"/>
<circle cx="222.39" cy="429.64" r="5.30" fill="#ffffff" fill-opacity="0.85"/>
<circle cx="222.39" cy="429.64" r="4.80" fill="#01665e" fill-opacity="0.95"/>
<circle cx="222.39" cy="429.64" r="4.50" fill="none" stroke="#004943" stroke-width="0.6" stroke-opacity="0.70"/>
<circle cx="384.68" cy="429.64" r="2.90" fill="#ffffff" fill-opacity="0.85"/>
<circle cx="384.68" cy="429.64" r="2.40" fill="#80cdc1" fill-opacity="0.95"/>
<circle cx="384.68" cy="429.64" r="2.10" fill="none" stroke="#5c938a" stroke-width="0.6" stroke-opacity="0.35"/>
<circle cx="222.39" cy="442.28" r="4.90" fill="#ffffff" fill-opacity="0.85"/>
<circle cx="222.39" cy="442.28" r="4.40" fill="#1b7e76" fill-opacity="0.95"/>
<circle cx="222.39" cy="442.28" r="4.10" fill="none" stroke="#135a54" stroke-width="0.6" stroke-opacity="0.70"/>
<circle cx="276.48" cy="442.28" r="3.10" fill="#ffffff" fill-opacity="0.85"/>
<circle cx="276.48" cy="442.28" r="2.60" fill="#e1c582" fill-opacity="0.95"/>
<circle cx="276.48" cy="442.28" r="2.30" fill="none" stroke="#a28d5d" stroke-width="0.6" stroke-opacity="0.35"/>
<circle cx="294.52" cy="442.28" r="5.20" fill="#ffffff" fill-opacity="0.85"/>
<circle cx="294.52" cy="442.28" r="4.70" fill="#01665e" fill-opacity="0.95"/>
<circle cx="294.52" cy="442.28" r="4.40" fill="none" stroke="#004943" stroke-width="0.6" stroke-opacity="0.70"/>
<circle cx="384.68" cy="442.28" r="4.60" fill="#ffffff" fill-opacity="0.85"/>
<circle cx="384.68" cy="442.28" r="4.10" fill="#167a72" fill-opacity="0.95"/>
<circle cx="384.68" cy="442.28" r="3.80" fill="none" stroke="#0f5752" stroke-width="0.6" stroke-opacity="0.70"/>
<circle cx="186.32" cy="454.92" r="2.90" fill="#ffffff" fill-opacity="0.85"/>
<circle cx="186.32" cy="454.92" r="2.40" fill="#80cdc1" fill-opacity="0.95"/>
<circle cx="186.32" cy="454.92" r="2.10" fill="none" stroke="#5c938a" stroke-width="0.6" stroke-opacity="0.35"/>
<circle cx="222.39" cy="454.92" r="4.90" fill="#ffffff" fill-opacity="0.85"/>
<circle cx="222.39" cy="454.92" r="4.40" fill="#1b7e76" fill-opacity="0.95"/>
<circle cx="222.39" cy="454.92" r="4.10" fill="none" stroke="#135a54" stroke-width="0.6" stroke-opacity="0.70"/>
<circle cx="294.52" cy="454.92" r="5.20" fill="#ffffff" fill-opacity="0.85"/>
<circle cx="294.52" cy="454.92" r="4.70" fill="#01665e" fill-opacity="0.95"/>
<circle cx="294.52" cy="454.92" r="4.40" fill="none" stroke="#004943" stroke-width="0.6" stroke-opacity="0.70"/>
<circle cx="312.55" cy="454.92" r="2.90" fill="#ffffff" fill-opacity="0.85"/>
<circle cx="312.55" cy="454.92" r="2.40" fill="#80cdc1" fill-opacity="0.95"/>
<circle cx="312.55" cy="454.92" r="2.10" fill="none" stroke="#5c938a" stroke-width="0.6" stroke-opacity="0.35"/>
<circle cx="384.68" cy="454.92" r="3.90" fill="#ffffff" fill-opacity="0.85"/>
<circle cx="384.68" cy="454.92" r="3.40" fill="#44a299" fill-opacity="0.95"/>
<circle cx="384.68" cy="454.92" r="3.10" fill="none" stroke="#30746e" stroke-width="0.6" stroke-opacity="0.70"/>
<rect x="175.50" y="232.50" width="220.00" height="230.00" fill="none" stroke="#1a1a1a" stroke-width="1.2"/>
<line x1="172.70" y1="240.08" x2="175.50" y2="240.08" stroke="#231f20" stroke-width="1.0"/>
<text x="169.60" y="242.98" font-size="8.5" text-anchor="end" stroke="#231f20" stroke-width="0.18">Graft vs. host disease</text>
<line x1="172.70" y1="252.72" x2="175.50" y2="252.72" stroke="#231f20" stroke-width="1.0"/>
<text x="169.60" y="255.62" font-size="8.5" text-anchor="end" stroke="#231f20" stroke-width="0.18">NK cell–mediated cytotoxicity</text>
<line x1="172.70" y1="265.36" x2="175.50" y2="265.36" stroke="#231f20" stroke-width="1.0"/>
<text x="169.60" y="268.26" font-size="8.5" text-anchor="end" stroke="#231f20" stroke-width="0.18">Leukocyte transendothelial migration</text>
<line x1="172.70" y1="277.99" x2="175.50" y2="277.99" stroke="#231f20" stroke-width="1.0"/>
<text x="169.60" y="280.89" font-size="8.5" text-anchor="end" stroke="#231f20" stroke-width="0.18">Lysosome</text>
<line x1="172.70" y1="290.63" x2="175.50" y2="290.63" stroke="#231f20" stroke-width="1.0"/>
<text x="169.60" y="293.53" font-size="8.5" text-anchor="end" stroke="#231f20" stroke-width="0.18">Fatty acid metabolism</text>
<line x1="172.70" y1="303.27" x2="175.50" y2="303.27" stroke="#231f20" stroke-width="1.0"/>
<text x="169.60" y="306.17" font-size="8.5" text-anchor="end" stroke="#231f20" stroke-width="0.18">NFκB signaling</text>
<line x1="172.70" y1="315.91" x2="175.50" y2="315.91" stroke="#231f20" stroke-width="1.0"/>
<text x="169.60" y="318.81" font-size="8.5" text-anchor="end" stroke="#231f20" stroke-width="0.18">NOD-like receptor signaling</text>
<line x1="172.70" y1="328.54" x2="175.50" y2="328.54" stroke="#231f20" stroke-width="1.0"/>
<text x="169.60" y="331.44" font-size="8.5" text-anchor="end" stroke="#231f20" stroke-width="0.18">Oxidative phosphorylation</text>
<line x1="172.70" y1="341.18" x2="175.50" y2="341.18" stroke="#231f20" stroke-width="1.0"/>
<text x="169.60" y="344.08" font-size="8.5" text-anchor="end" stroke="#231f20" stroke-width="0.18">Ferroptosis</text>
<line x1="172.70" y1="353.82" x2="175.50" y2="353.82" stroke="#231f20" stroke-width="1.0"/>
<text x="169.60" y="356.72" font-size="8.5" text-anchor="end" stroke="#231f20" stroke-width="0.18">HIF1 signaling</text>
<line x1="172.70" y1="366.46" x2="175.50" y2="366.46" stroke="#231f20" stroke-width="1.0"/>
<text x="169.60" y="369.36" font-size="8.5" text-anchor="end" stroke="#231f20" stroke-width="0.18">RNA degradation</text>
<line x1="172.70" y1="379.09" x2="175.50" y2="379.09" stroke="#231f20" stroke-width="1.0"/>
<text x="169.60" y="381.99" font-size="8.5" text-anchor="end" stroke="#231f20" stroke-width="0.18">Lysine degradation</text>
<line x1="172.70" y1="391.73" x2="175.50" y2="391.73" stroke="#231f20" stroke-width="1.0"/>
<text x="169.60" y="394.63" font-size="8.5" text-anchor="end" stroke="#231f20" stroke-width="0.18">Nucleotide metabolism</text>
<line x1="172.70" y1="404.37" x2="175.50" y2="404.37" stroke="#231f20" stroke-width="1.0"/>
<text x="169.60" y="407.27" font-size="8.5" text-anchor="end" stroke="#231f20" stroke-width="0.18">Toll-like receptor signaling</text>
<line x1="172.70" y1="417.01" x2="175.50" y2="417.01" stroke="#231f20" stroke-width="1.0"/>
<text x="169.60" y="419.91" font-size="8.5" text-anchor="end" stroke="#231f20" stroke-width="0.18">Cellular senescence</text>
<line x1="172.70" y1="429.64" x2="175.50" y2="429.64" stroke="#231f20" stroke-width="1.0"/>
<text x="169.60" y="432.54" font-size="8.5" text-anchor="end" stroke="#231f20" stroke-width="0.18">PD-L1/PD-1 pathway</text>
<line x1="172.70" y1="442.28" x2="175.50" y2="442.28" stroke="#231f20" stroke-width="1.0"/>
<text x="169.60" y="445.18" font-size="8.5" text-anchor="end" stroke="#231f20" stroke-width="0.18">TNF signaling</text>
<line x1="172.70" y1="454.92" x2="175.50" y2="454.92" stroke="#231f20" stroke-width="1.0"/>
<text x="169.60" y="457.82" font-size="8.5" text-anchor="end" stroke="#231f20" stroke-width="0.18">TCR signaling</text>
<text x="169.30" y="472.50" font-size="8.4" text-anchor="end" font-weight="bold" stroke="#231f20" stroke-width="0.3">Timepoint:</text>
<text x="186.32" y="472.60" font-size="8.45" text-anchor="middle" stroke="#231f20" stroke-width="0.18">Pre</text>
<text x="204.35" y="472.60" font-size="8.45" text-anchor="middle" stroke="#231f20" stroke-width="0.18">Post</text>
<line x1="179.82" y1="477.20" x2="211.35" y2="477.20" stroke="#414042" stroke-width="1.2"/>
<text x="193.64" y="486.20" font-size="8.45" text-anchor="middle" stroke="#231f20" stroke-width="0.18" xml:space="preserve">CD4<tspan dy="-3.0" font-size="5.6">+</tspan></text>
<text x="193.14" y="495.20" font-size="8.45" text-anchor="middle" stroke="#231f20" stroke-width="0.18">naïve</text>
<text x="222.39" y="472.60" font-size="8.45" text-anchor="middle" stroke="#231f20" stroke-width="0.18">Pre</text>
<text x="240.42" y="472.60" font-size="8.45" text-anchor="middle" stroke="#231f20" stroke-width="0.18">Post</text>
<line x1="215.89" y1="477.20" x2="247.42" y2="477.20" stroke="#414042" stroke-width="1.2"/>
<text x="232.40" y="486.20" font-size="8.45" text-anchor="middle" stroke="#231f20" stroke-width="0.18" xml:space="preserve">CD4<tspan dy="-3.0" font-size="5.6">+</tspan></text>
<text x="231.90" y="495.20" font-size="8.45" text-anchor="middle" stroke="#231f20" stroke-width="0.18">activ.</text>
<text x="258.45" y="472.60" font-size="8.45" text-anchor="middle" stroke="#231f20" stroke-width="0.18">Pre</text>
<text x="276.48" y="472.60" font-size="8.45" text-anchor="middle" stroke="#231f20" stroke-width="0.18">Post</text>
<line x1="251.95" y1="477.20" x2="283.48" y2="477.20" stroke="#414042" stroke-width="1.2"/>
<text x="268.37" y="486.20" font-size="8.45" text-anchor="middle" stroke="#231f20" stroke-width="0.18" xml:space="preserve">CD8<tspan dy="-3.0" font-size="5.6">+</tspan></text>
<text x="267.87" y="495.20" font-size="8.45" text-anchor="middle" stroke="#231f20" stroke-width="0.18">naïve</text>
<text x="294.52" y="472.60" font-size="8.45" text-anchor="middle" stroke="#231f20" stroke-width="0.18">Pre</text>
<text x="312.55" y="472.60" font-size="8.45" text-anchor="middle" stroke="#231f20" stroke-width="0.18">Post</text>
<line x1="288.02" y1="477.20" x2="319.55" y2="477.20" stroke="#414042" stroke-width="1.2"/>
<text x="302.63" y="486.20" font-size="8.45" text-anchor="middle" stroke="#231f20" stroke-width="0.18" xml:space="preserve">CD8<tspan dy="-3.0" font-size="5.6">+</tspan></text>
<text x="302.13" y="495.20" font-size="8.45" text-anchor="middle" stroke="#231f20" stroke-width="0.18">activ.</text>
<text x="330.58" y="472.60" font-size="8.45" text-anchor="middle" stroke="#231f20" stroke-width="0.18">Pre</text>
<text x="348.61" y="472.60" font-size="8.45" text-anchor="middle" stroke="#231f20" stroke-width="0.18">Post</text>
<line x1="324.08" y1="477.20" x2="355.61" y2="477.20" stroke="#414042" stroke-width="1.2"/>
<text x="338.50" y="486.20" font-size="8.45" text-anchor="middle" stroke="#231f20" stroke-width="0.18" xml:space="preserve">CD16<tspan dy="-3.0" font-size="5.6">+</tspan></text>
<text x="338.00" y="495.20" font-size="8.45" text-anchor="middle" stroke="#231f20" stroke-width="0.18">NK</text>
<text x="366.65" y="472.60" font-size="8.45" text-anchor="middle" stroke="#231f20" stroke-width="0.18">Pre</text>
<text x="384.68" y="472.60" font-size="8.45" text-anchor="middle" stroke="#231f20" stroke-width="0.18">Post</text>
<line x1="360.15" y1="477.20" x2="391.68" y2="477.20" stroke="#414042" stroke-width="1.2"/>
<text x="374.76" y="486.20" font-size="8.45" text-anchor="middle" stroke="#231f20" stroke-width="0.18" xml:space="preserve">CD56<tspan dy="-3.0" font-size="5.6">+</tspan></text>
<text x="374.26" y="495.20" font-size="8.45" text-anchor="middle" stroke="#231f20" stroke-width="0.18">NK</text>
<text x="403.70" y="259.50" font-size="8.45" font-weight="bold" stroke="#231f20" stroke-width="0.3">Signed</text>
<text x="403.70" y="271.70" font-size="8.45" font-weight="bold" stroke="#231f20" stroke-width="0.3" xml:space="preserve" xml:space="preserve">–Log<tspan dy="2.0" font-size="5.6">10</tspan><tspan dy="-2.0"> </tspan><tspan font-style="italic">q</tspan></text>
<text x="403.70" y="285.00" font-size="8.4" fill="#b07a3a" stroke="#b07a3a" stroke-width="0.18">epiR</text>
<defs><linearGradient id="cb" x1="0" y1="0" x2="0" y2="1"><stop offset="0.000" stop-color="#96581c"/><stop offset="0.083" stop-color="#b97d32"/><stop offset="0.167" stop-color="#d7aa5a"/><stop offset="0.250" stop-color="#eed096"/><stop offset="0.333" stop-color="#faeccd"/><stop offset="0.417" stop-color="#fdf8eb"/><stop offset="0.500" stop-color="#ffffff"/><stop offset="0.583" stop-color="#ebf6f4"/><stop offset="0.667" stop-color="#cdebe6"/><stop offset="0.750" stop-color="#96d0c8"/><stop offset="0.833" stop-color="#5fb2a8"/><stop offset="0.917" stop-color="#328c82"/><stop offset="1.000" stop-color="#0f645c"/></linearGradient></defs>
<rect x="406.30" y="288.00" width="11.40" height="57.60" fill="url(#cb)" stroke="#4d4d4d" stroke-width="0.4"/>
<text x="421.80" y="291.60" font-size="8.4" stroke="#231f20" stroke-width="0.18">3</text>
<text x="421.80" y="301.40" font-size="8.4" stroke="#231f20" stroke-width="0.18">2</text>
<text x="421.80" y="310.50" font-size="8.4" stroke="#231f20" stroke-width="0.18">1</text>
<text x="421.80" y="320.00" font-size="8.4" stroke="#231f20" stroke-width="0.18">0</text>
<text x="421.80" y="330.50" font-size="8.4" stroke="#231f20" stroke-width="0.18">-1</text>
<text x="421.80" y="340.30" font-size="8.4" stroke="#231f20" stroke-width="0.18">-2</text>
<text x="421.80" y="347.80" font-size="8.4" stroke="#231f20" stroke-width="0.18">-3</text>
<text x="402.50" y="353.70" font-size="8.4" fill="#1f8a80" stroke="#1f8a80" stroke-width="0.18">mutR</text>
<text x="403.70" y="387.50" font-size="8.45" font-weight="bold" stroke="#231f20" stroke-width="0.3" xml:space="preserve">–Log<tspan dy="2.0" font-size="5.6">10</tspan><tspan dy="-2.0"> </tspan><tspan font-style="italic">q</tspan></text>
<circle cx="412.40" cy="398.00" r="2.20" fill="#1a1a1a"/>
<text x="421.70" y="401.00" font-size="8.4" stroke="#231f20" stroke-width="0.18">1.5</text>
<circle cx="412.40" cy="409.40" r="3.10" fill="#1a1a1a"/>
<text x="421.70" y="412.40" font-size="8.4" stroke="#231f20" stroke-width="0.18">2.0</text>
<circle cx="412.40" cy="421.00" r="3.90" fill="#1a1a1a"/>
<text x="421.70" y="424.00" font-size="8.4" stroke="#231f20" stroke-width="0.18">2.5</text>
<circle cx="412.40" cy="432.50" r="4.60" fill="#1a1a1a"/>
<text x="421.70" y="435.50" font-size="8.4" stroke="#231f20" stroke-width="0.18">3.0</text>
<text x="1.20" y="515.20" font-size="9.6" font-weight="bold" stroke="#231f20" stroke-width="0.35">C</text>
<text x="215.10" y="513.70" font-size="8.45" text-anchor="middle" font-weight="bold" stroke="#231f20" stroke-width="0.3">TCGA UCEC: immunotherapy factors</text>
<line x1="158.66" y1="529.00" x2="158.66" y2="678.30" stroke="#e4e4e4" stroke-width="0.6"/>
<line x1="191.86" y1="529.00" x2="191.86" y2="678.30" stroke="#e4e4e4" stroke-width="0.6"/>
<line x1="215.42" y1="529.00" x2="215.42" y2="678.30" stroke="#e4e4e4" stroke-width="0.6"/>
<line x1="248.63" y1="529.00" x2="248.63" y2="678.30" stroke="#e4e4e4" stroke-width="0.6"/>
<line x1="261.26" y1="529.00" x2="261.26" y2="678.30" stroke="#e4e4e4" stroke-width="0.6"/>
<line x1="281.84" y1="529.00" x2="281.84" y2="678.30" stroke="#e4e4e4" stroke-width="0.6"/>
<line x1="233.70" y1="529.00" x2="233.70" y2="678.30" stroke="#4d4d4d" stroke-width="0.7" stroke-dasharray="1 1.2"/>
<line x1="243.71" y1="540.00" x2="277.16" y2="540.00" stroke="#231f20" stroke-width="0.9"/>
<line x1="243.71" y1="538.00" x2="243.71" y2="542.00" stroke="#231f20" stroke-width="0.9"/>
<line x1="277.16" y1="538.00" x2="277.16" y2="542.00" stroke="#231f20" stroke-width="0.9"/>
<rect x="257.57" y="536.90" width="6.20" height="6.20" fill="#1a1a1a"/>
<text x="130.70" y="539.50" font-size="7.45" text-anchor="middle" font-weight="bold" stroke="#231f20" stroke-width="0.12">1.39</text>
<text x="130.70" y="546.80" font-size="7.6" text-anchor="middle" font-style="italic" fill="#414042" stroke="#414042" stroke-width="0.18">(1.13–1.70)</text>
<text x="285.70" y="542.40" font-size="7.1" font-weight="bold" stroke="#231f20" stroke-width="0.12">0.001</text>
<line x1="225.98" y1="558.40" x2="267.99" y2="558.40" stroke="#231f20" stroke-width="0.9"/>
<line x1="225.98" y1="556.40" x2="225.98" y2="560.40" stroke="#231f20" stroke-width="0.9"/>
<line x1="267.99" y1="556.40" x2="267.99" y2="560.40" stroke="#231f20" stroke-width="0.9"/>
<rect x="243.46" y="555.30" width="6.20" height="6.20" fill="#1a1a1a"/>
<text x="130.70" y="557.90" font-size="7.45" text-anchor="middle" font-weight="bold" stroke="#231f20" stroke-width="0.12">1.17</text>
<text x="130.70" y="565.20" font-size="7.6" text-anchor="middle" font-style="italic" fill="#414042" stroke="#414042" stroke-width="0.18">(0.91–1.52)</text>
<text x="285.70" y="560.80" font-size="7.449999999999999" fill="#4d4d4d" stroke="#4d4d4d" stroke-width="0.18">0.225</text>
<line x1="199.67" y1="576.80" x2="277.16" y2="576.80" stroke="#231f20" stroke-width="0.9"/>
<line x1="199.67" y1="574.80" x2="199.67" y2="578.80" stroke="#231f20" stroke-width="0.9"/>
<line x1="277.16" y1="574.80" x2="277.16" y2="578.80" stroke="#231f20" stroke-width="0.9"/>
<rect x="235.37" y="573.70" width="6.20" height="6.20" fill="#1a1a1a"/>
<text x="130.70" y="576.30" font-size="7.45" text-anchor="middle" font-weight="bold" stroke="#231f20" stroke-width="0.12">1.06</text>
<text x="130.70" y="583.60" font-size="7.6" text-anchor="middle" font-style="italic" fill="#414042" stroke="#414042" stroke-width="0.18">(0.66–1.70)</text>
<text x="285.70" y="579.20" font-size="7.449999999999999" fill="#4d4d4d" stroke="#4d4d4d" stroke-width="0.18">0.808</text>
<line x1="212.29" y1="595.20" x2="253.92" y2="595.20" stroke="#231f20" stroke-width="0.9"/>
<line x1="212.29" y1="593.20" x2="212.29" y2="597.20" stroke="#231f20" stroke-width="0.9"/>
<line x1="253.92" y1="593.20" x2="253.92" y2="597.20" stroke="#231f20" stroke-width="0.9"/>
<rect x="229.78" y="592.10" width="6.20" height="6.20" fill="#1a1a1a"/>
<text x="130.70" y="594.70" font-size="7.45" text-anchor="middle" font-weight="bold" stroke="#231f20" stroke-width="0.12">0.99</text>
<text x="130.70" y="602.00" font-size="7.6" text-anchor="middle" font-style="italic" fill="#414042" stroke="#414042" stroke-width="0.18">(0.77–1.28)</text>
<text x="285.70" y="597.60" font-size="7.449999999999999" fill="#4d4d4d" stroke="#4d4d4d" stroke-width="0.18">0.95</text>
<line x1="194.55" y1="613.60" x2="258.28" y2="613.60" stroke="#231f20" stroke-width="0.9"/>
<line x1="194.55" y1="611.60" x2="194.55" y2="615.60" stroke="#231f20" stroke-width="0.9"/>
<line x1="258.28" y1="611.60" x2="258.28" y2="615.60" stroke="#231f20" stroke-width="0.9"/>
<rect x="223.77" y="610.50" width="6.20" height="6.20" fill="#1a1a1a"/>
<text x="130.70" y="613.10" font-size="7.45" text-anchor="middle" font-weight="bold" stroke="#231f20" stroke-width="0.12">0.92</text>
<text x="130.70" y="620.40" font-size="7.6" text-anchor="middle" font-style="italic" fill="#414042" stroke="#414042" stroke-width="0.18">(0.62–1.35)</text>
<text x="285.70" y="616.00" font-size="7.449999999999999" fill="#4d4d4d" stroke="#4d4d4d" stroke-width="0.18">0.659</text>
<line x1="199.67" y1="632.00" x2="245.15" y2="632.00" stroke="#231f20" stroke-width="0.9"/>
<line x1="199.67" y1="630.00" x2="199.67" y2="634.00" stroke="#231f20" stroke-width="0.9"/>
<line x1="245.15" y1="630.00" x2="245.15" y2="634.00" stroke="#231f20" stroke-width="0.9"/>
<rect x="219.19" y="628.90" width="6.20" height="6.20" fill="#1a1a1a"/>
<text x="130.70" y="631.50" font-size="7.45" text-anchor="middle" font-weight="bold" stroke="#231f20" stroke-width="0.12">0.87</text>
<text x="130.70" y="638.80" font-size="7.6" text-anchor="middle" font-style="italic" fill="#414042" stroke="#414042" stroke-width="0.18">(0.66–1.15)</text>
<text x="285.70" y="634.40" font-size="7.449999999999999" fill="#4d4d4d" stroke="#4d4d4d" stroke-width="0.18">0.317</text>
<line x1="184.74" y1="650.40" x2="229.50" y2="650.40" stroke="#231f20" stroke-width="0.9"/>
<line x1="184.74" y1="648.40" x2="184.74" y2="652.40" stroke="#231f20" stroke-width="0.9"/>
<line x1="229.50" y1="648.40" x2="229.50" y2="652.40" stroke="#231f20" stroke-width="0.9"/>
<rect x="203.70" y="647.30" width="6.20" height="6.20" fill="#1a1a1a"/>
<text x="130.70" y="649.90" font-size="7.45" text-anchor="middle" font-weight="bold" stroke="#231f20" stroke-width="0.12">0.72</text>
<text x="130.70" y="657.20" font-size="7.6" text-anchor="middle" font-style="italic" fill="#414042" stroke="#414042" stroke-width="0.18">(0.55–0.95)</text>
<text x="285.70" y="652.80" font-size="7.1" font-weight="bold" stroke="#231f20" stroke-width="0.12">0.021</text>
<line x1="152.27" y1="668.80" x2="241.51" y2="668.80" stroke="#231f20" stroke-width="0.9"/>
<line x1="152.27" y1="666.80" x2="152.27" y2="670.80" stroke="#231f20" stroke-width="0.9"/>
<line x1="241.51" y1="666.80" x2="241.51" y2="670.80" stroke="#231f20" stroke-width="0.9"/>
<rect x="194.05" y="665.70" width="6.20" height="6.20" fill="#1a1a1a"/>
<text x="130.70" y="668.30" font-size="7.45" text-anchor="middle" font-weight="bold" stroke="#231f20" stroke-width="0.12">0.64</text>
<text x="130.70" y="675.60" font-size="7.6" text-anchor="middle" font-style="italic" fill="#414042" stroke="#414042" stroke-width="0.18">(0.37–1.10)</text>
<text x="285.70" y="671.20" font-size="7.449999999999999" fill="#4d4d4d" stroke="#4d4d4d" stroke-width="0.18">0.106</text>
<line x1="106.90" y1="529.00" x2="313.10" y2="529.00" stroke="#2b2b2b" stroke-width="0.95"/>
<rect x="106.90" y="517.40" width="206.20" height="160.90" fill="none" stroke="#2b2b2b" stroke-width="1.15"/>
<text x="110.50" y="525.60" font-size="7.35" stroke="#231f20" stroke-width="0.18"><tspan font-weight="bold">HR</tspan> <tspan font-style="italic" fill="#414042" stroke="#414042">(95% CI)</tspan></text>
<text x="284.20" y="525.60" font-size="7.3" font-weight="bold" stroke="#231f20" stroke-width="0.12" xml:space="preserve"><tspan font-style="italic">P</tspan> value</text>
<text x="102.00" y="542.60" font-size="8.5" text-anchor="end" stroke="#231f20" stroke-width="0.18" xml:space="preserve">Homolog. recomb. defects</text>
<text x="102.00" y="561.00" font-size="8.5" text-anchor="end" stroke="#231f20" stroke-width="0.18" xml:space="preserve">TGFβ response</text>
<text x="102.00" y="579.40" font-size="8.5" text-anchor="end" stroke="#231f20" stroke-width="0.18" xml:space="preserve">Indel burden</text>
<text x="102.00" y="597.80" font-size="8.5" text-anchor="end" stroke="#231f20" stroke-width="0.18" xml:space="preserve">IFNγ response</text>
<text x="102.00" y="616.20" font-size="8.5" text-anchor="end" stroke="#231f20" stroke-width="0.18" xml:space="preserve">MSI score</text>
<text x="102.00" y="634.60" font-size="8.5" text-anchor="end" stroke="#231f20" stroke-width="0.18" xml:space="preserve">CD8<tspan dy="-3.0" font-size="5.6">+</tspan><tspan dy="3.0"> T cells</tspan></text>
<text x="102.00" y="653.00" font-size="8.5" text-anchor="end" stroke="#231f20" stroke-width="0.18" xml:space="preserve">Activated NK cells</text>
<text x="102.00" y="671.40" font-size="8.5" text-anchor="end" stroke="#231f20" stroke-width="0.18" xml:space="preserve">Nonsilent mutation rate</text>
<text x="158.66" y="689.30" font-size="8.4" text-anchor="middle" stroke="#231f20" stroke-width="0.18">0.4</text>
<text x="191.86" y="689.30" font-size="8.4" text-anchor="middle" stroke="#231f20" stroke-width="0.18">0.6</text>
<text x="215.42" y="689.30" font-size="8.4" text-anchor="middle" stroke="#231f20" stroke-width="0.18">0.8</text>
<text x="233.70" y="689.30" font-size="8.4" text-anchor="middle" stroke="#231f20" stroke-width="0.18">1</text>
<text x="248.63" y="689.30" font-size="8.4" text-anchor="middle" stroke="#231f20" stroke-width="0.18">1.2</text>
<text x="261.26" y="689.30" font-size="8.4" text-anchor="middle" stroke="#231f20" stroke-width="0.18">1.4</text>
<text x="281.84" y="689.30" font-size="8.4" text-anchor="middle" stroke="#231f20" stroke-width="0.18">1.8</text>
<text x="157.50" y="697.80" font-size="8.4" stroke="#231f20" stroke-width="0.18" xml:space="preserve"><tspan font-weight="bold">Hazard ratio</tspan> (overall survival)</text>
<text x="1.20" y="718.90" font-size="9.6" font-weight="bold" stroke="#231f20" stroke-width="0.35">D</text>
<text x="65.40" y="726.20" font-size="8.5" text-anchor="middle" stroke="#231f20" stroke-width="0.18" xml:space="preserve">CD16<tspan dy="-3.0" font-size="5.6">+</tspan><tspan dy="3.0"> NK DEGs:</tspan></text>
<text x="64.80" y="736.70" font-size="8.5" text-anchor="middle" stroke="#231f20" stroke-width="0.18" xml:space="preserve"><tspan fill="#c1272d" stroke="#c1272d">Up</tspan> in epiR (pretreat)</text>
<defs><radialGradient id="gy"><stop offset="0" stop-color="#fcf8de"/><stop offset="0.65" stop-color="#faf2cb"/><stop offset="1" stop-color="#f6e9b3"/></radialGradient><radialGradient id="gp"><stop offset="0" stop-color="#fcd9dc"/><stop offset="0.65" stop-color="#facace"/><stop offset="1" stop-color="#f6b5bb"/></radialGradient><radialGradient id="go" gradientUnits="userSpaceOnUse" cx="58" cy="780.3" r="32"><stop offset="0" stop-color="#f6c3b7"/><stop offset="1" stop-color="#f3b3a7"/></radialGradient></defs>
<circle cx="39.60" cy="780.30" r="35.30" fill="url(#gy)"/>
<circle cx="76.40" cy="780.30" r="35.30" fill="url(#gp)"/>
<path d="M58.00,750.17A35.3 35.3 0 0 1 58.00,810.43A35.3 35.3 0 0 1 58.00,750.17Z" fill="url(#go)"/>
<circle cx="39.60" cy="780.30" r="35.30" fill="none" stroke="#c8aa78" stroke-width="0.8" stroke-opacity="0.75"/>
<circle cx="76.40" cy="780.30" r="35.30" fill="none" stroke="#d7707d" stroke-width="0.8"/>
<text x="21.20" y="782.10" font-size="8.5" text-anchor="middle" stroke="#231f20" stroke-width="0.18">442</text>
<text x="56.20" y="782.10" font-size="8.5" text-anchor="middle" stroke="#231f20" stroke-width="0.18">248</text>
<text x="91.70" y="782.10" font-size="8.5" text-anchor="middle" stroke="#231f20" stroke-width="0.18">298</text>
<text x="35.60" y="824.20" font-size="8.5" text-anchor="middle" stroke="#231f20" stroke-width="0.18">vs. NR</text>
<text x="77.90" y="824.20" font-size="8.5" text-anchor="middle" stroke="#231f20" stroke-width="0.18">vs. mutR</text>
<rect x="15.00" y="832.00" width="82.00" height="73.00" fill="#dcddde"/>
<line x1="58.70" y1="798.70" x2="55.00" y2="832.00" stroke="#333" stroke-width="0.9"/>
<text x="18.00" y="840.70" font-size="8.4" font-style="italic" stroke="#231f20" stroke-width="0.18">ACTR2</text>
<text x="58.00" y="840.70" font-size="8.4" font-style="italic" stroke="#231f20" stroke-width="0.18">CTSD</text>
<text x="18.00" y="849.46" font-size="8.4" font-style="italic" stroke="#231f20" stroke-width="0.18">ARPC3</text>
<text x="58.00" y="849.46" font-size="8.4" font-style="italic" stroke="#231f20" stroke-width="0.18">CTSS</text>
<text x="18.00" y="858.22" font-size="8.4" font-style="italic" stroke="#231f20" stroke-width="0.18">CD300C</text>
<text x="58.00" y="858.22" font-size="8.4" font-style="italic" stroke="#231f20" stroke-width="0.18">CX3CR1</text>
<text x="18.00" y="866.98" font-size="8.4" font-style="italic" stroke="#231f20" stroke-width="0.18">CD38</text>
<text x="58.00" y="866.98" font-size="8.4" font-style="italic" stroke="#231f20" stroke-width="0.18">FCER1G</text>
<text x="18.00" y="875.74" font-size="8.4" font-style="italic" stroke="#231f20" stroke-width="0.18">CD63</text>
<text x="58.00" y="875.74" font-size="8.4" font-style="italic" stroke="#231f20" stroke-width="0.18">GZMA</text>
<text x="18.00" y="884.50" font-size="8.4" font-style="italic" stroke="#231f20" stroke-width="0.18">CPIB</text>
<text x="58.00" y="884.50" font-size="8.4" font-style="italic" stroke="#231f20" stroke-width="0.18">LTB</text>
<text x="18.00" y="893.26" font-size="8.4" font-style="italic" stroke="#231f20" stroke-width="0.18">CTNNB1</text>
<text x="58.00" y="893.26" font-size="8.4" font-style="italic" stroke="#231f20" stroke-width="0.18">SELL</text>
<text x="18.00" y="902.02" font-size="8.4" font-style="italic" stroke="#231f20" stroke-width="0.18">CTSC</text>
<text x="58.00" y="902.02" font-size="8.4" font-style="italic" stroke="#231f20" stroke-width="0.18">TNFSF10</text>
<text x="122.00" y="718.90" font-size="9.6" font-weight="bold" stroke="#231f20" stroke-width="0.35">E</text>
<text x="288.50" y="722.50" font-size="8.5" text-anchor="middle" stroke="#231f20" stroke-width="0.18" xml:space="preserve">Common CD16<tspan dy="-3.0" font-size="5.6">+</tspan><tspan dy="3.0"> NK DEGs:</tspan></text>
<text x="288.70" y="733.00" font-size="8.5" text-anchor="middle" stroke="#231f20" stroke-width="0.18" xml:space="preserve"><tspan fill="#c1272d" stroke="#c1272d">Up</tspan> in epiR (pretreat)</text>
<rect x="258.30" y="747.40" width="71.68" height="10.30" fill="#f4a57e"/>
<line x1="254.30" y1="752.50" x2="258.30" y2="752.50" stroke="#231f20" stroke-width="1.1"/>
<text x="251.30" y="755.10" font-size="8.64" text-anchor="end" stroke="#231f20" stroke-width="0.18">Extracellular exosome</text>
<rect x="258.30" y="764.20" width="49.50" height="10.30" fill="#f4a57e"/>
<line x1="254.30" y1="769.30" x2="258.30" y2="769.30" stroke="#231f20" stroke-width="1.1"/>
<text x="251.30" y="771.90" font-size="8.64" text-anchor="end" stroke="#231f20" stroke-width="0.18">Ruffle membrane</text>
<rect x="258.30" y="780.20" width="46.53" height="10.30" fill="#f4a57e"/>
<line x1="254.30" y1="785.30" x2="258.30" y2="785.30" stroke="#231f20" stroke-width="1.1"/>
<text x="251.30" y="787.90" font-size="8.64" text-anchor="end" stroke="#231f20" stroke-width="0.18">TNF-mediated signaling</text>
<rect x="258.30" y="795.90" width="40.59" height="10.30" fill="#f4a57e"/>
<line x1="254.30" y1="801.00" x2="258.30" y2="801.00" stroke="#231f20" stroke-width="1.1"/>
<text x="251.30" y="803.60" font-size="8.64" text-anchor="end" stroke="#231f20" stroke-width="0.18">Membrane raft</text>
<rect x="258.30" y="812.20" width="37.82" height="10.30" fill="#f4a57e"/>
<line x1="254.30" y1="817.30" x2="258.30" y2="817.30" stroke="#231f20" stroke-width="1.1"/>
<text x="251.30" y="819.90" font-size="8.64" text-anchor="end" stroke="#231f20" stroke-width="0.18">Focal adhesion</text>
<rect x="258.30" y="828.20" width="37.22" height="10.30" fill="#f4a57e"/>
<line x1="254.30" y1="833.30" x2="258.30" y2="833.30" stroke="#231f20" stroke-width="1.1"/>
<text x="251.30" y="835.90" font-size="8.64" text-anchor="end" stroke="#231f20" stroke-width="0.18">Rho cell motility signaling</text>
<rect x="258.30" y="844.20" width="34.65" height="10.30" fill="#f4a57e"/>
<line x1="254.30" y1="849.30" x2="258.30" y2="849.30" stroke="#231f20" stroke-width="1.1"/>
<text x="251.30" y="851.90" font-size="8.64" text-anchor="end" stroke="#231f20" stroke-width="0.18">(–) Regulation of apoptotic process</text>
<rect x="258.30" y="860.20" width="34.65" height="10.30" fill="#f4a57e"/>
<line x1="254.30" y1="865.30" x2="258.30" y2="865.30" stroke="#231f20" stroke-width="1.1"/>
<text x="251.30" y="867.90" font-size="8.64" text-anchor="end" stroke="#231f20" stroke-width="0.18">Proteolysis</text>
<rect x="258.30" y="876.20" width="26.14" height="10.30" fill="#f4a57e"/>
<line x1="254.30" y1="881.30" x2="258.30" y2="881.30" stroke="#231f20" stroke-width="1.1"/>
<text x="251.30" y="883.90" font-size="8.64" text-anchor="end" stroke="#231f20" stroke-width="0.18">Actin filament binding</text>
<line x1="258.30" y1="743.70" x2="258.30" y2="892.30" stroke="#231f20" stroke-width="1.25"/>
<line x1="257.70" y1="891.70" x2="338.00" y2="891.70" stroke="#231f20" stroke-width="1.2"/>
<line x1="258.30" y1="891.70" x2="258.30" y2="896.20" stroke="#231f20" stroke-width="1.1"/>
<text x="258.30" y="904.60" font-size="8.5" text-anchor="middle" stroke="#231f20" stroke-width="0.18">0</text>
<line x1="278.10" y1="891.70" x2="278.10" y2="896.20" stroke="#231f20" stroke-width="1.1"/>
<text x="278.10" y="904.60" font-size="8.5" text-anchor="middle" stroke="#231f20" stroke-width="0.18">1</text>
<line x1="297.90" y1="891.70" x2="297.90" y2="896.20" stroke="#231f20" stroke-width="1.1"/>
<text x="297.90" y="904.60" font-size="8.5" text-anchor="middle" stroke="#231f20" stroke-width="0.18">2</text>
<line x1="317.70" y1="891.70" x2="317.70" y2="896.20" stroke="#231f20" stroke-width="1.1"/>
<text x="317.70" y="904.60" font-size="8.5" text-anchor="middle" stroke="#231f20" stroke-width="0.18">3</text>
<line x1="337.50" y1="891.70" x2="337.50" y2="896.20" stroke="#231f20" stroke-width="1.1"/>
<text x="337.50" y="904.60" font-size="8.5" text-anchor="middle" stroke="#231f20" stroke-width="0.18">4</text>
<text x="299.30" y="915.60" font-size="8.5" text-anchor="middle" stroke="#231f20" stroke-width="0.18" xml:space="preserve">–Log<tspan dy="2.6" font-size="7.8">10</tspan><tspan dy="-2.6"> adj. </tspan><tspan font-style="italic">P</tspan></text>
<defs><radialGradient id="gb"><stop offset="0" stop-color="#d0e2f5"/><stop offset="0.65" stop-color="#c2d9f1"/><stop offset="1" stop-color="#b0ceed"/></radialGradient><radialGradient id="gt"><stop offset="0" stop-color="#e3f5f3"/><stop offset="0.65" stop-color="#d5f0ec"/><stop offset="1" stop-color="#bfe7e1"/></radialGradient></defs>
<text x="356.00" y="718.90" font-size="9.6" font-weight="bold" stroke="#231f20" stroke-width="0.35">F</text>
<text x="422.90" y="718.00" font-size="8.5" text-anchor="middle" stroke="#231f20" stroke-width="0.18" xml:space="preserve">CD16<tspan dy="-3.0" font-size="5.6">+</tspan><tspan dy="3.0"> NK DEGs:</tspan></text>
<text x="422.60" y="726.90" font-size="8.5" text-anchor="middle" stroke="#231f20" stroke-width="0.18" xml:space="preserve"><tspan fill="#3f74b5" stroke="#3f74b5">Down</tspan> in epiR (pretreat)</text>
<defs><radialGradient id="gov769" gradientUnits="userSpaceOnUse" cx="414.3" cy="769.6" r="32"><stop offset="0" stop-color="#b0d3e6"/><stop offset="1" stop-color="#9fc8de"/></radialGradient></defs>
<circle cx="396.20" cy="769.60" r="36.30" fill="url(#gb)"/>
<circle cx="432.50" cy="769.60" r="36.30" fill="url(#gt)"/>
<path d="M414.35,738.16A36.3 36.3 0 0 1 414.35,801.04A36.3 36.3 0 0 1 414.35,738.16Z" fill="url(#gov769)"/>
<circle cx="396.20" cy="769.60" r="36.30" fill="none" stroke="#6e98cc" stroke-width="0.8" stroke-opacity="0.75"/>
<circle cx="432.50" cy="769.60" r="36.30" fill="none" stroke="#6fbdb3" stroke-width="0.8"/>
<text x="379.20" y="772.60" font-size="8.5" text-anchor="middle" stroke="#231f20" stroke-width="0.18">119</text>
<text x="414.50" y="772.60" font-size="8.5" text-anchor="middle" stroke="#231f20" stroke-width="0.18">131</text>
<text x="450.30" y="772.60" font-size="8.5" text-anchor="middle" stroke="#231f20" stroke-width="0.18">371</text>
<text x="395.20" y="815.00" font-size="8.5" text-anchor="middle" stroke="#231f20" stroke-width="0.18">vs. NR</text>
<text x="437.70" y="815.00" font-size="8.5" text-anchor="middle" stroke="#231f20" stroke-width="0.18">vs. mutR</text>
<rect x="478.50" y="726.20" width="41.00" height="66.40" fill="#e6e7e8"/>
<line x1="425.80" y1="763.70" x2="475.20" y2="750.00" stroke="#333" stroke-width="0.9"/>
<text x="481.70" y="735.20" font-size="8.4" font-style="italic" stroke="#231f20" stroke-width="0.18">CEBPB</text>
<text x="481.70" y="744.23" font-size="8.4" font-style="italic" stroke="#231f20" stroke-width="0.18">CXCR4</text>
<text x="481.70" y="753.26" font-size="8.4" font-style="italic" stroke="#231f20" stroke-width="0.18">LAG3</text>
<text x="481.70" y="762.29" font-size="8.4" font-style="italic" stroke="#231f20" stroke-width="0.18">LDOC1</text>
<text x="481.70" y="771.32" font-size="8.4" font-style="italic" stroke="#231f20" stroke-width="0.18">PHF1</text>
<text x="481.70" y="780.35" font-size="8.4" font-style="italic" stroke="#231f20" stroke-width="0.18">ZFP36</text>
<text x="481.70" y="789.38" font-size="8.4" font-style="italic" stroke="#231f20" stroke-width="0.18">ZFP36L2</text>
<text x="422.90" y="833.40" font-size="8.5" text-anchor="middle" stroke="#231f20" stroke-width="0.18" xml:space="preserve">CD16<tspan dy="-3.0" font-size="5.6">+</tspan><tspan dy="3.0"> NK DEGs:</tspan></text>
<text x="422.60" y="842.30" font-size="8.5" text-anchor="middle" stroke="#231f20" stroke-width="0.18" xml:space="preserve"><tspan fill="#3f74b5" stroke="#3f74b5">Down</tspan> in epiR (posttreat)</text>
<defs><radialGradient id="gov885" gradientUnits="userSpaceOnUse" cx="414.3" cy="885.0" r="32"><stop offset="0" stop-color="#b0d3e6"/><stop offset="1" stop-color="#9fc8de"/></radialGradient></defs>
<circle cx="396.20" cy="885.00" r="36.30" fill="url(#gb)"/>
<circle cx="432.50" cy="885.00" r="36.30" fill="url(#gt)"/>
<path d="M414.35,853.56A36.3 36.3 0 0 1 414.35,916.44A36.3 36.3 0 0 1 414.35,853.56Z" fill="url(#gov885)"/>
<circle cx="396.20" cy="885.00" r="36.30" fill="none" stroke="#6e98cc" stroke-width="0.8" stroke-opacity="0.75"/>
<circle cx="432.50" cy="885.00" r="36.30" fill="none" stroke="#6fbdb3" stroke-width="0.8"/>
<text x="379.20" y="888.00" font-size="8.5" text-anchor="middle" stroke="#231f20" stroke-width="0.18">317</text>
<text x="414.50" y="888.00" font-size="8.5" text-anchor="middle" stroke="#231f20" stroke-width="0.18">363</text>
<text x="450.30" y="888.00" font-size="8.5" text-anchor="middle" stroke="#231f20" stroke-width="0.18">525</text>
<text x="395.20" y="930.40" font-size="8.5" text-anchor="middle" stroke="#231f20" stroke-width="0.18">vs. NR</text>
<text x="437.70" y="930.40" font-size="8.5" text-anchor="middle" stroke="#231f20" stroke-width="0.18">vs. mutR</text>
<rect x="478.50" y="840.80" width="41.00" height="65.60" fill="#e6e7e8"/>
<line x1="425.80" y1="877.40" x2="475.20" y2="863.40" stroke="#333" stroke-width="0.9"/>
<text x="481.70" y="849.80" font-size="8.4" font-style="italic" stroke="#231f20" stroke-width="0.18">CEBPB</text>
<text x="481.70" y="858.83" font-size="8.4" font-style="italic" stroke="#231f20" stroke-width="0.18">IRF4</text>
<text x="481.70" y="867.86" font-size="8.4" font-style="italic" stroke="#231f20" stroke-width="0.18">LDOC1</text>
<text x="481.70" y="876.89" font-size="8.4" font-style="italic" stroke="#231f20" stroke-width="0.18">NR4A2</text>
<text x="481.70" y="885.92" font-size="8.4" font-style="italic" stroke="#231f20" stroke-width="0.18">PHF1</text>
<text x="481.70" y="894.95" font-size="8.4" font-style="italic" stroke="#231f20" stroke-width="0.18">PRDM1</text>
<text x="481.70" y="903.98" font-size="8.4" font-style="italic" stroke="#231f20" stroke-width="0.18">ZFP36L2</text>
<text x="4.30" y="958.90" font-size="9.6" font-weight="bold" stroke="#231f20" stroke-width="0.35">G</text>
<text x="128.50" y="965.70" font-size="8.5" text-anchor="middle" stroke="#231f20" stroke-width="0.18" xml:space="preserve">Common CD16<tspan dy="-3.0" font-size="5.6">+</tspan><tspan dy="3.0"> NK DEGs:</tspan></text>
<text x="129.00" y="976.20" font-size="8.5" text-anchor="middle" stroke="#231f20" stroke-width="0.18" xml:space="preserve"><tspan fill="#3f74b5" stroke="#3f74b5">Down</tspan> in epiR</text>
<rect x="101.30" y="988.10" width="73.12" height="10.80" fill="#6dc0c8"/>
<line x1="97.30" y1="993.40" x2="101.30" y2="993.40" stroke="#231f20" stroke-width="1.1"/>
<text x="94.50" y="995.50" font-size="8.68" text-anchor="end" stroke="#231f20" stroke-width="0.18">Ribonucleoprotein</text>
<rect x="101.30" y="1005.80" width="69.55" height="10.80" fill="#6dc0c8"/>
<line x1="97.30" y1="1011.10" x2="101.30" y2="1011.10" stroke="#231f20" stroke-width="1.1"/>
<text x="94.50" y="1008.20" font-size="8.68" text-anchor="end" stroke="#231f20" stroke-width="0.18">Nonsense-mediated</text>
<text x="94.50" y="1016.20" font-size="8.68" text-anchor="end" stroke="#231f20" stroke-width="0.18">decay</text>
<rect x="101.30" y="1023.10" width="53.62" height="10.80" fill="#6dc0c8"/>
<line x1="97.30" y1="1028.40" x2="101.30" y2="1028.40" stroke="#231f20" stroke-width="1.1"/>
<text x="94.50" y="1030.50" font-size="8.68" text-anchor="end" stroke="#231f20" stroke-width="0.18">Poly(A) RNA-binding</text>
<rect x="101.30" y="1040.60" width="6.17" height="10.80" fill="#6dc0c8"/>
<line x1="97.30" y1="1045.90" x2="101.30" y2="1045.90" stroke="#231f20" stroke-width="1.1"/>
<text x="94.50" y="1048.00" font-size="8.68" text-anchor="end" stroke="#231f20" stroke-width="0.18">Autolysosome</text>
<rect x="101.30" y="1075.80" width="42.90" height="10.80" fill="#6dc0c8"/>
<line x1="97.30" y1="1081.10" x2="101.30" y2="1081.10" stroke="#231f20" stroke-width="1.1"/>
<text x="94.50" y="1078.20" font-size="8.68" text-anchor="end" stroke="#231f20" stroke-width="0.18">Nonsense-mediated</text>
<text x="94.50" y="1086.20" font-size="8.68" text-anchor="end" stroke="#231f20" stroke-width="0.18">decay</text>
<rect x="101.30" y="1093.60" width="36.40" height="10.80" fill="#6dc0c8"/>
<line x1="97.30" y1="1098.90" x2="101.30" y2="1098.90" stroke="#231f20" stroke-width="1.1"/>
<text x="94.50" y="1101.00" font-size="8.68" text-anchor="end" stroke="#231f20" stroke-width="0.18">Ribonucleoprotein</text>
<rect x="101.30" y="1111.10" width="19.99" height="10.80" fill="#6dc0c8"/>
<line x1="97.30" y1="1116.40" x2="101.30" y2="1116.40" stroke="#231f20" stroke-width="1.1"/>
<text x="94.50" y="1118.50" font-size="8.68" text-anchor="end" stroke="#231f20" stroke-width="0.18">Poly(A) RNA-binding</text>
<rect x="101.30" y="1128.30" width="16.90" height="10.80" fill="#6dc0c8"/>
<line x1="97.30" y1="1133.60" x2="101.30" y2="1133.60" stroke="#231f20" stroke-width="1.1"/>
<text x="94.50" y="1135.70" font-size="8.68" text-anchor="end" stroke="#231f20" stroke-width="0.18">Transcription regulation</text>
<line x1="101.30" y1="981.20" x2="101.30" y2="1145.60" stroke="#231f20" stroke-width="1.25"/>
<line x1="100.70" y1="1145.00" x2="183.05" y2="1145.00" stroke="#231f20" stroke-width="1.2"/>
<line x1="101.30" y1="1145.00" x2="101.30" y2="1148.80" stroke="#231f20" stroke-width="1.1"/>
<text x="101.30" y="1159.30" font-size="8.5" text-anchor="middle" stroke="#231f20" stroke-width="0.18">0</text>
<line x1="117.55" y1="1145.00" x2="117.55" y2="1148.80" stroke="#231f20" stroke-width="1.1"/>
<text x="117.55" y="1159.30" font-size="8.5" text-anchor="middle" stroke="#231f20" stroke-width="0.18">5</text>
<line x1="133.80" y1="1145.00" x2="133.80" y2="1148.80" stroke="#231f20" stroke-width="1.1"/>
<text x="133.80" y="1159.30" font-size="8.5" text-anchor="middle" stroke="#231f20" stroke-width="0.18">10</text>
<line x1="150.05" y1="1145.00" x2="150.05" y2="1148.80" stroke="#231f20" stroke-width="1.1"/>
<text x="150.05" y="1159.30" font-size="8.5" text-anchor="middle" stroke="#231f20" stroke-width="0.18">15</text>
<line x1="166.30" y1="1145.00" x2="166.30" y2="1148.80" stroke="#231f20" stroke-width="1.1"/>
<text x="166.30" y="1159.30" font-size="8.5" text-anchor="middle" stroke="#231f20" stroke-width="0.18">20</text>
<line x1="182.55" y1="1145.00" x2="182.55" y2="1148.80" stroke="#231f20" stroke-width="1.1"/>
<text x="182.55" y="1159.30" font-size="8.5" text-anchor="middle" stroke="#231f20" stroke-width="0.18">25</text>
<line x1="101.80" y1="1063.20" x2="189.50" y2="1063.20" stroke="#6d6e71" stroke-width="0.9" stroke-dasharray="3.2 1.8"/>
<text x="186.40" y="1059.50" font-size="8.5" text-anchor="end" stroke="#231f20" stroke-width="0.18">Pretreat</text>
<text x="187.60" y="1134.50" font-size="8.5" text-anchor="end" stroke="#231f20" stroke-width="0.18">Posttreat</text>
<text x="142.70" y="1170.00" font-size="8.5" text-anchor="middle" stroke="#231f20" stroke-width="0.18" xml:space="preserve">–Log<tspan dy="2.0" font-size="5.6">10</tspan><tspan dy="-2.0"> adj. </tspan><tspan font-style="italic">P</tspan> value</text>
<text x="212.30" y="958.90" font-size="9.6" font-weight="bold" stroke="#231f20" stroke-width="0.35">H</text>
<text x="350.90" y="963.70" font-size="8.58" text-anchor="middle" font-weight="bold" stroke="#231f20" stroke-width="0.3">TCGA UCEC: epiR-NK4 gene set</text>
<line x1="296.54" y1="983.10" x2="296.54" y2="1143.70" stroke="#e4e4e4" stroke-width="0.6"/>
<line x1="335.38" y1="983.10" x2="335.38" y2="1143.70" stroke="#e4e4e4" stroke-width="0.6"/>
<line x1="390.11" y1="983.10" x2="390.11" y2="1143.70" stroke="#e4e4e4" stroke-width="0.6"/>
<line x1="410.92" y1="983.10" x2="410.92" y2="1143.70" stroke="#e4e4e4" stroke-width="0.6"/>
<line x1="428.95" y1="983.10" x2="428.95" y2="1143.70" stroke="#e4e4e4" stroke-width="0.6"/>
<line x1="365.50" y1="983.10" x2="365.50" y2="1143.70" stroke="#4d4d4d" stroke-width="0.7" stroke-dasharray="1 1.2"/>
<line x1="287.22" y1="996.70" x2="364.14" y2="996.70" stroke="#231f20" stroke-width="0.9"/>
<line x1="287.22" y1="993.90" x2="287.22" y2="999.50" stroke="#231f20" stroke-width="0.9"/>
<line x1="364.14" y1="993.90" x2="364.14" y2="999.50" stroke="#231f20" stroke-width="0.9"/>
<rect x="323.46" y="993.50" width="6.40" height="6.40" fill="#1a1a1a"/>
<text x="254.50" y="993.70" font-size="8.6" text-anchor="middle" font-weight="bold" stroke="#231f20" stroke-width="0.3">0.75</text>
<text x="254.50" y="1002.50" font-size="8.7" text-anchor="middle" font-style="italic" fill="#414042" stroke="#414042" stroke-width="0.18">(0.56–0.99)</text>
<text x="431.20" y="999.10" font-size="8.44" font-weight="bold" stroke="#231f20" stroke-width="0.3">0.04</text>
<line x1="284.79" y1="1038.70" x2="364.14" y2="1038.70" stroke="#231f20" stroke-width="0.9"/>
<line x1="284.79" y1="1035.90" x2="284.79" y2="1041.50" stroke="#231f20" stroke-width="0.9"/>
<line x1="364.14" y1="1035.90" x2="364.14" y2="1041.50" stroke="#231f20" stroke-width="0.9"/>
<rect x="321.65" y="1035.50" width="6.40" height="6.40" fill="#1a1a1a"/>
<text x="254.50" y="1035.70" font-size="8.6" text-anchor="middle" font-weight="bold" stroke="#231f20" stroke-width="0.3">0.74</text>
<text x="254.50" y="1044.50" font-size="8.7" text-anchor="middle" font-style="italic" fill="#414042" stroke="#414042" stroke-width="0.18">(0.55–0.99)</text>
<text x="431.20" y="1041.10" font-size="8.44" font-weight="bold" stroke="#231f20" stroke-width="0.3">0.043</text>
<line x1="366.84" y1="1080.70" x2="417.51" y2="1080.70" stroke="#231f20" stroke-width="0.9"/>
<line x1="366.84" y1="1077.90" x2="366.84" y2="1083.50" stroke="#231f20" stroke-width="0.9"/>
<line x1="417.51" y1="1077.90" x2="417.51" y2="1083.50" stroke="#231f20" stroke-width="0.9"/>
<rect x="389.14" y="1077.50" width="6.40" height="6.40" fill="#1a1a1a"/>
<text x="254.50" y="1077.70" font-size="8.6" text-anchor="middle" font-weight="bold" stroke="#231f20" stroke-width="0.3">1.22</text>
<text x="254.50" y="1086.50" font-size="8.7" text-anchor="middle" font-style="italic" fill="#414042" stroke="#414042" stroke-width="0.18">(1.01–1.47)</text>
<text x="431.20" y="1083.10" font-size="8.44" font-weight="bold" stroke="#231f20" stroke-width="0.3">0.037</text>
<line x1="382.00" y1="1122.70" x2="427.25" y2="1122.70" stroke="#231f20" stroke-width="0.9"/>
<line x1="382.00" y1="1119.90" x2="382.00" y2="1125.50" stroke="#231f20" stroke-width="0.9"/>
<line x1="427.25" y1="1119.90" x2="427.25" y2="1125.50" stroke="#231f20" stroke-width="0.9"/>
<rect x="401.81" y="1119.50" width="6.40" height="6.40" fill="#1a1a1a"/>
<text x="254.50" y="1119.70" font-size="8.6" text-anchor="middle" font-weight="bold" stroke="#231f20" stroke-width="0.3">1.34</text>
<text x="254.50" y="1128.50" font-size="8.7" text-anchor="middle" font-style="italic" fill="#414042" stroke="#414042" stroke-width="0.18">(1.13–1.58)</text>
<text x="431.20" y="1125.10" font-size="8.44" font-weight="bold" stroke="#231f20" stroke-width="0.3">0.0008</text>
<line x1="228.50" y1="983.10" x2="459.40" y2="983.10" stroke="#2b2b2b" stroke-width="0.95"/>
<rect x="228.50" y="968.70" width="230.90" height="175.00" fill="none" stroke="#2b2b2b" stroke-width="1.15"/>
<text x="233.00" y="979.20" font-size="8.65" stroke="#231f20" stroke-width="0.18"><tspan font-weight="bold">HR</tspan> <tspan font-style="italic" fill="#414042" stroke="#414042">(95% CI)</tspan></text>
<text x="427.50" y="978.90" font-size="8.3" font-weight="bold" stroke="#231f20" stroke-width="0.3" xml:space="preserve"><tspan font-style="italic">P</tspan>-value</text>
<text x="226.20" y="998.90" font-size="8.4" text-anchor="end" font-style="italic" stroke="#231f20" stroke-width="0.18">CD63</text>
<text x="226.20" y="1040.90" font-size="8.4" text-anchor="end" font-style="italic" stroke="#231f20" stroke-width="0.18">PPIB</text>
<text x="226.20" y="1082.90" font-size="8.4" text-anchor="end" font-style="italic" stroke="#231f20" stroke-width="0.18">CEBPB</text>
<text x="226.20" y="1124.90" font-size="8.4" text-anchor="end" font-style="italic" stroke="#231f20" stroke-width="0.18">LDOC1</text>
<line x1="296.54" y1="1143.70" x2="296.54" y2="1145.90" stroke="#231f20" stroke-width="0.7"/>
<text x="296.54" y="1155.50" font-size="8.4" text-anchor="middle" stroke="#231f20" stroke-width="0.18">0.6</text>
<line x1="335.38" y1="1143.70" x2="335.38" y2="1145.90" stroke="#231f20" stroke-width="0.7"/>
<text x="335.38" y="1155.50" font-size="8.4" text-anchor="middle" stroke="#231f20" stroke-width="0.18">0.8</text>
<line x1="365.50" y1="1143.70" x2="365.50" y2="1145.90" stroke="#231f20" stroke-width="0.7"/>
<text x="365.50" y="1155.50" font-size="8.4" text-anchor="middle" stroke="#231f20" stroke-width="0.18">1</text>
<line x1="390.11" y1="1143.70" x2="390.11" y2="1145.90" stroke="#231f20" stroke-width="0.7"/>
<text x="390.11" y="1155.50" font-size="8.4" text-anchor="middle" stroke="#231f20" stroke-width="0.18">1.2</text>
<line x1="410.92" y1="1143.70" x2="410.92" y2="1145.90" stroke="#231f20" stroke-width="0.7"/>
<text x="410.92" y="1155.50" font-size="8.4" text-anchor="middle" stroke="#231f20" stroke-width="0.18">1.4</text>
<line x1="428.95" y1="1143.70" x2="428.95" y2="1145.90" stroke="#231f20" stroke-width="0.7"/>
<text x="428.95" y="1155.50" font-size="8.4" text-anchor="middle" stroke="#231f20" stroke-width="0.18">1.6</text>
<text x="359.70" y="1167.00" font-size="8.4" text-anchor="middle" stroke="#231f20" stroke-width="0.18" xml:space="preserve"><tspan font-weight="bold">Hazard ratio</tspan> (overall survival)</text>
<text x="462.70" y="972.00" font-size="7.75" stroke="#231f20" stroke-width="0.18" xml:space="preserve">epiR: CD16<tspan dy="-3.0" font-size="5.6">+</tspan><tspan dy="3.0"> NK</tspan></text>
<line x1="463.00" y1="974.90" x2="516.50" y2="974.90" stroke="#6d6e71" stroke-width="1.1"/>
<text x="463.70" y="986.20" font-size="8.4" stroke="#231f20" stroke-width="0.18">vs.:</text>
<text x="489.30" y="986.20" font-size="8.4" text-anchor="middle" stroke="#231f20" stroke-width="0.18">NR</text>
<text x="508.70" y="986.20" font-size="8.4" text-anchor="middle" stroke="#231f20" stroke-width="0.18">mutR</text>
<text x="463.70" y="998.80" font-size="8.4" stroke="#231f20" stroke-width="0.18">Pre</text>
<text x="461.80" y="1014.50" font-size="8.4" stroke="#231f20" stroke-width="0.18">Post</text>
<path d="M489.30,992.40 l3.4,3.6 h-1.9 v3.7 h-3 v-3.7 h-1.9 z" fill="#d2334a"/>
<path d="M489.30,1007.90 l3.4,3.6 h-1.9 v3.7 h-3 v-3.7 h-1.9 z" fill="#d2334a"/>
<path d="M508.50,992.40 l3.4,3.6 h-1.9 v3.7 h-3 v-3.7 h-1.9 z" fill="#d2334a"/>
<path d="M508.50,1007.90 l3.4,3.6 h-1.9 v3.7 h-3 v-3.7 h-1.9 z" fill="#d2334a"/>
<text x="463.70" y="1040.80" font-size="8.4" stroke="#231f20" stroke-width="0.18">Pre</text>
<text x="461.80" y="1056.50" font-size="8.4" stroke="#231f20" stroke-width="0.18">Post</text>
<path d="M489.30,1034.40 l3.4,3.6 h-1.9 v3.7 h-3 v-3.7 h-1.9 z" fill="#d2334a"/>
<path d="M489.30,1049.90 l3.4,3.6 h-1.9 v3.7 h-3 v-3.7 h-1.9 z" fill="#d2334a"/>
<path d="M508.50,1034.40 l3.4,3.6 h-1.9 v3.7 h-3 v-3.7 h-1.9 z" fill="#d2334a"/>
<path d="M508.50,1049.90 l3.4,3.6 h-1.9 v3.7 h-3 v-3.7 h-1.9 z" fill="#d2334a"/>
<text x="463.70" y="1082.80" font-size="8.4" stroke="#231f20" stroke-width="0.18">Pre</text>
<text x="461.80" y="1098.50" font-size="8.4" stroke="#231f20" stroke-width="0.18">Post</text>
<path d="M489.30,1083.70 l3.4,-3.6 h-1.9 v-3.7 h-3 v3.7 h-1.9 z" fill="#3b82b8"/>
<path d="M489.30,1099.20 l3.4,-3.6 h-1.9 v-3.7 h-3 v3.7 h-1.9 z" fill="#3b82b8"/>
<path d="M508.50,1083.70 l3.4,-3.6 h-1.9 v-3.7 h-3 v3.7 h-1.9 z" fill="#3b82b8"/>
<path d="M508.50,1099.20 l3.4,-3.6 h-1.9 v-3.7 h-3 v3.7 h-1.9 z" fill="#3b82b8"/>
<text x="463.70" y="1124.80" font-size="8.4" stroke="#231f20" stroke-width="0.18">Pre</text>
<text x="461.80" y="1140.50" font-size="8.4" stroke="#231f20" stroke-width="0.18">Post</text>
<path d="M489.30,1125.70 l3.4,-3.6 h-1.9 v-3.7 h-3 v3.7 h-1.9 z" fill="#3b82b8"/>
<path d="M489.30,1141.20 l3.4,-3.6 h-1.9 v-3.7 h-3 v3.7 h-1.9 z" fill="#3b82b8"/>
<path d="M508.50,1125.70 l3.4,-3.6 h-1.9 v-3.7 h-3 v3.7 h-1.9 z" fill="#3b82b8"/>
<path d="M508.50,1141.20 l3.4,-3.6 h-1.9 v-3.7 h-3 v3.7 h-1.9 z" fill="#3b82b8"/>
<text x="1.20" y="1195.20" font-size="9.6" font-weight="bold" stroke="#231f20" stroke-width="0.35">I</text>
<text x="112.30" y="1196.20" font-size="8.6" text-anchor="middle" font-weight="bold" stroke="#231f20" stroke-width="0.3">epiR-NK4 score construction</text>
<rect x="48.00" y="1208.62" width="19.40" height="107.48" fill="#b2182b"/>
<line x1="57.70" y1="1371.30" x2="57.70" y2="1374.40" stroke="#231f20" stroke-width="1.0"/>
<text transform="translate(62.0,1381.0) rotate(-45)" font-size="8.7" font-style="italic" text-anchor="end" fill="#231f20">PPIB</text>
<rect x="75.90" y="1218.13" width="19.40" height="97.97" fill="#d6554a"/>
<line x1="85.60" y1="1371.30" x2="85.60" y2="1374.40" stroke="#231f20" stroke-width="1.0"/>
<text transform="translate(89.9,1381.0) rotate(-45)" font-size="8.7" font-style="italic" text-anchor="end" fill="#231f20">CD63</text>
<rect x="103.80" y="1316.10" width="19.40" height="27.14" fill="#5f9fd1"/>
<line x1="113.50" y1="1371.30" x2="113.50" y2="1374.40" stroke="#231f20" stroke-width="1.0"/>
<text transform="translate(117.8,1381.0) rotate(-45)" font-size="8.7" font-style="italic" text-anchor="end" fill="#231f20">LDOC1</text>
<rect x="131.30" y="1316.10" width="19.40" height="47.27" fill="#2166ac"/>
<line x1="141.00" y1="1371.30" x2="141.00" y2="1374.40" stroke="#231f20" stroke-width="1.0"/>
<text transform="translate(145.3,1381.0) rotate(-45)" font-size="8.7" font-style="italic" text-anchor="end" fill="#231f20">CEBPB</text>
<line x1="41.30" y1="1201.20" x2="41.30" y2="1371.90" stroke="#231f20" stroke-width="1.2"/>
<line x1="40.70" y1="1371.30" x2="157.60" y2="1371.30" stroke="#231f20" stroke-width="1.2"/>
<line x1="41.20" y1="1316.10" x2="157.60" y2="1316.10" stroke="#231f20" stroke-width="1.0"/>
<line x1="37.70" y1="1238.10" x2="41.20" y2="1238.10" stroke="#231f20" stroke-width="1.0"/>
<text x="35.20" y="1241.00" font-size="8.5" text-anchor="end" stroke="#231f20" stroke-width="0.18">0.50</text>
<line x1="37.70" y1="1277.10" x2="41.20" y2="1277.10" stroke="#231f20" stroke-width="1.0"/>
<text x="35.20" y="1280.00" font-size="8.5" text-anchor="end" stroke="#231f20" stroke-width="0.18">0.25</text>
<line x1="37.70" y1="1316.10" x2="41.20" y2="1316.10" stroke="#231f20" stroke-width="1.0"/>
<text x="35.20" y="1319.00" font-size="8.5" text-anchor="end" stroke="#231f20" stroke-width="0.18">0.00</text>
<line x1="37.70" y1="1355.10" x2="41.20" y2="1355.10" stroke="#231f20" stroke-width="1.0"/>
<text x="35.20" y="1358.00" font-size="8.5" text-anchor="end" stroke="#231f20" stroke-width="0.18">–0.25</text>
<text transform="translate(11,1287) rotate(-90)" font-size="8.5" text-anchor="middle" fill="#231f20">PC1 variable loadings</text>
<text x="219.30" y="1193.90" font-size="9.6" font-weight="bold" stroke="#231f20" stroke-width="0.35">J</text>
<text x="360.30" y="1196.20" font-size="8.6" text-anchor="middle" font-weight="bold" stroke="#231f20" stroke-width="0.3">TCGA UCEC: activated NK cells—high</text>
<line x1="257.30" y1="1200.00" x2="257.30" y2="1372.00" stroke="#231f20" stroke-width="1.0"/>
<line x1="256.80" y1="1371.50" x2="514.30" y2="1371.50" stroke="#231f20" stroke-width="1.0"/>
<line x1="254.00" y1="1363.90" x2="257.30" y2="1363.90" stroke="#231f20" stroke-width="0.8"/>
<text x="251.70" y="1366.90" font-size="8.6" text-anchor="end" stroke="#231f20" stroke-width="0.18">0</text>
<line x1="254.00" y1="1324.80" x2="257.30" y2="1324.80" stroke="#231f20" stroke-width="0.8"/>
<text x="251.70" y="1327.80" font-size="8.6" text-anchor="end" stroke="#231f20" stroke-width="0.18">25</text>
<line x1="254.00" y1="1285.70" x2="257.30" y2="1285.70" stroke="#231f20" stroke-width="0.8"/>
<text x="251.70" y="1288.70" font-size="8.6" text-anchor="end" stroke="#231f20" stroke-width="0.18">50</text>
<line x1="254.00" y1="1246.60" x2="257.30" y2="1246.60" stroke="#231f20" stroke-width="0.8"/>
<text x="251.70" y="1249.60" font-size="8.6" text-anchor="end" stroke="#231f20" stroke-width="0.18">75</text>
<line x1="254.00" y1="1207.50" x2="257.30" y2="1207.50" stroke="#231f20" stroke-width="0.8"/>
<text x="251.70" y="1210.50" font-size="8.6" text-anchor="end" stroke="#231f20" stroke-width="0.18">100</text>
<line x1="268.50" y1="1371.50" x2="268.50" y2="1374.80" stroke="#231f20" stroke-width="0.8"/>
<text x="268.50" y="1383.90" font-size="8.5" text-anchor="middle" stroke="#231f20" stroke-width="0.18">0</text>
<line x1="346.75" y1="1371.50" x2="346.75" y2="1374.80" stroke="#231f20" stroke-width="0.8"/>
<text x="346.75" y="1383.90" font-size="8.5" text-anchor="middle" stroke="#231f20" stroke-width="0.18">50</text>
<line x1="425.00" y1="1371.50" x2="425.00" y2="1374.80" stroke="#231f20" stroke-width="0.8"/>
<text x="425.00" y="1383.90" font-size="8.5" text-anchor="middle" stroke="#231f20" stroke-width="0.18">100</text>
<line x1="503.25" y1="1371.50" x2="503.25" y2="1374.80" stroke="#231f20" stroke-width="0.8"/>
<text x="503.25" y="1383.90" font-size="8.5" text-anchor="middle" stroke="#231f20" stroke-width="0.18">150</text>
<text x="384.00" y="1394.50" font-size="8.6" text-anchor="middle" stroke="#231f20" stroke-width="0.18">Time (months)</text>
<text transform="translate(232.3,1286.0) rotate(-90)" font-size="8.65" text-anchor="middle" fill="#231f20">Overall survival %</text>
<path d="M267.50,1207.50H275.40H278.48V1209.30H281.56V1211.10H284.64V1212.90H287.72V1214.70H290.80V1216.50H293.85V1219.17H296.90V1221.85H299.95V1224.53H303.00V1227.20H306.10V1229.66H309.20V1232.12H312.30V1234.58H315.40V1237.04H318.50V1239.50H321.50V1242.60H332.00V1246.20H345.00V1248.70H360.00V1253.70H389.20V1263.00H453.70" fill="none" stroke="#732c84" stroke-width="1.55" stroke-linejoin="miter"/>
<path d="M269.00,1204.70v5.60M271.30,1204.70v5.60M273.60,1204.70v5.60M275.90,1204.99v5.60M278.20,1206.34v5.60M280.50,1207.68v5.60M282.80,1209.02v5.60M285.10,1210.37v5.60M287.40,1211.71v5.60M289.70,1213.06v5.60M292.00,1214.75v5.60M294.30,1216.77v5.60M296.60,1218.79v5.60M298.90,1220.80v5.60M301.20,1222.82v5.60M303.50,1224.80v5.60M305.80,1226.62v5.60M308.10,1228.45v5.60M310.40,1230.27v5.60M312.70,1232.10v5.60M315.00,1233.92v5.60M317.30,1235.75v5.60M319.60,1237.84v5.60M324.00,1239.80v5.60M327.00,1239.80v5.60M330.00,1239.80v5.60M336.00,1243.40v5.60M340.00,1243.40v5.60M343.00,1243.40v5.60M348.00,1245.90v5.60M352.00,1245.90v5.60M356.00,1245.90v5.60M359.00,1245.90v5.60M362.00,1250.90v5.60M364.00,1250.90v5.60M366.00,1250.90v5.60M368.00,1250.90v5.60M371.00,1250.90v5.60M374.00,1250.90v5.60M377.00,1250.90v5.60M380.00,1250.90v5.60M383.00,1250.90v5.60M386.00,1250.90v5.60M391.00,1260.20v5.60M399.00,1260.20v5.60M411.00,1260.20v5.60M413.00,1260.20v5.60M414.50,1260.20v5.60M421.00,1260.20v5.60M439.00,1260.20v5.60M445.50,1260.20v5.60M452.50,1260.20v5.60" fill="none" stroke="#732c84" stroke-width="1.0"/>
<path d="M267.50,1207.50H299.00H301.83V1209.23H304.67V1210.97H307.50V1212.70H310.33V1214.43H313.17V1216.17H316.00V1217.90H435.00V1247.00H444.20V1276.20H502.50" fill="none" stroke="#1b7f41" stroke-width="1.55" stroke-linejoin="miter"/>
<path d="M268.00,1204.70v5.60M270.20,1204.70v5.60M272.40,1204.70v5.60M274.60,1204.70v5.60M276.80,1204.70v5.60M279.00,1204.70v5.60M281.20,1204.70v5.60M283.40,1204.70v5.60M285.60,1204.70v5.60M287.80,1204.70v5.60M290.00,1204.70v5.60M292.20,1204.70v5.60M294.40,1204.70v5.60M296.60,1204.70v5.60M298.80,1204.70v5.60M301.00,1205.92v5.60M303.20,1207.27v5.60M305.40,1208.62v5.60M307.60,1209.96v5.60M309.80,1211.31v5.60M312.00,1212.65v5.60M314.20,1214.00v5.60M316.40,1215.10v5.60M321.00,1215.10v5.60M325.00,1215.10v5.60M329.00,1215.10v5.60M333.00,1215.10v5.60M336.00,1215.10v5.60M339.00,1215.10v5.60M341.00,1215.10v5.60M344.00,1215.10v5.60M347.00,1215.10v5.60M349.00,1215.10v5.60M351.00,1215.10v5.60M354.00,1215.10v5.60M357.50,1215.10v5.60M361.00,1215.10v5.60M365.00,1215.10v5.60M369.00,1215.10v5.60M372.50,1215.10v5.60M376.00,1215.10v5.60M380.00,1215.10v5.60M382.00,1215.10v5.60M384.00,1215.10v5.60M389.00,1215.10v5.60M391.00,1215.10v5.60M395.00,1215.10v5.60M397.00,1215.10v5.60M399.00,1215.10v5.60M402.50,1215.10v5.60M405.00,1215.10v5.60M407.50,1215.10v5.60M420.00,1215.10v5.60M427.50,1215.10v5.60M435.00,1215.10v5.60M444.50,1273.40v5.60M481.20,1273.40v5.60M502.00,1273.40v5.60" fill="none" stroke="#1b7f41" stroke-width="1.0"/>
<text x="420.00" y="1303.70" font-size="8.5" stroke="#231f20" stroke-width="0.18" xml:space="preserve"><tspan font-style="italic">P</tspan> = 0.00032</text>
<text x="309.00" y="1324.70" font-size="8.5" text-anchor="middle" stroke="#231f20" stroke-width="0.18">epiR-NK4 score</text>
<line x1="268.40" y1="1328.50" x2="349.90" y2="1328.50" stroke="#555555" stroke-width="1.3"/>
<line x1="269.60" y1="1339.20" x2="280.40" y2="1339.20" stroke="#1b7f41" stroke-width="1.5"/>
<line x1="269.60" y1="1352.50" x2="280.40" y2="1352.50" stroke="#732c84" stroke-width="1.5"/>
<text x="285.50" y="1342.40" font-size="8.5" stroke="#231f20" stroke-width="0.18" xml:space="preserve">High (<tspan font-style="italic">n</tspan> = 116)</text>
<text x="285.50" y="1355.40" font-size="8.5" stroke="#231f20" stroke-width="0.18" xml:space="preserve">Low (<tspan font-style="italic">n</tspan> = 123)</text>
<text x="109.30" y="1426.90" font-size="9.6" font-weight="bold" stroke="#231f20" stroke-width="0.35">K</text>
<text x="252.80" y="1430.50" font-size="8.65" text-anchor="middle" font-weight="bold" stroke="#231f20" stroke-width="0.3">TCGA UCEC: MSI &amp; POLE tumors</text>
<line x1="147.80" y1="1433.70" x2="147.80" y2="1606.70" stroke="#231f20" stroke-width="1.0"/>
<line x1="147.30" y1="1606.20" x2="407.20" y2="1606.20" stroke="#231f20" stroke-width="1.0"/>
<line x1="144.50" y1="1597.80" x2="147.80" y2="1597.80" stroke="#231f20" stroke-width="0.8"/>
<text x="142.20" y="1600.80" font-size="8.6" text-anchor="end" stroke="#231f20" stroke-width="0.18">0</text>
<line x1="144.50" y1="1558.65" x2="147.80" y2="1558.65" stroke="#231f20" stroke-width="0.8"/>
<text x="142.20" y="1561.65" font-size="8.6" text-anchor="end" stroke="#231f20" stroke-width="0.18">25</text>
<line x1="144.50" y1="1519.50" x2="147.80" y2="1519.50" stroke="#231f20" stroke-width="0.8"/>
<text x="142.20" y="1522.50" font-size="8.6" text-anchor="end" stroke="#231f20" stroke-width="0.18">50</text>
<line x1="144.50" y1="1480.35" x2="147.80" y2="1480.35" stroke="#231f20" stroke-width="0.8"/>
<text x="142.20" y="1483.35" font-size="8.6" text-anchor="end" stroke="#231f20" stroke-width="0.18">75</text>
<line x1="144.50" y1="1441.20" x2="147.80" y2="1441.20" stroke="#231f20" stroke-width="0.8"/>
<text x="142.20" y="1444.20" font-size="8.6" text-anchor="end" stroke="#231f20" stroke-width="0.18">100</text>
<line x1="159.80" y1="1606.20" x2="159.80" y2="1609.50" stroke="#231f20" stroke-width="0.8"/>
<text x="159.80" y="1618.50" font-size="8.5" text-anchor="middle" stroke="#231f20" stroke-width="0.18">0</text>
<line x1="238.10" y1="1606.20" x2="238.10" y2="1609.50" stroke="#231f20" stroke-width="0.8"/>
<text x="238.10" y="1618.50" font-size="8.5" text-anchor="middle" stroke="#231f20" stroke-width="0.18">50</text>
<line x1="316.40" y1="1606.20" x2="316.40" y2="1609.50" stroke="#231f20" stroke-width="0.8"/>
<text x="316.40" y="1618.50" font-size="8.5" text-anchor="middle" stroke="#231f20" stroke-width="0.18">100</text>
<line x1="394.70" y1="1606.20" x2="394.70" y2="1609.50" stroke="#231f20" stroke-width="0.8"/>
<text x="394.70" y="1618.50" font-size="8.5" text-anchor="middle" stroke="#231f20" stroke-width="0.18">150</text>
<text x="275.00" y="1629.00" font-size="8.6" text-anchor="middle" stroke="#231f20" stroke-width="0.18">Time (months)</text>
<text transform="translate(122.5,1519.8) rotate(-90)" font-size="8.65" text-anchor="middle" fill="#231f20">Overall survival %</text>
<path d="M158.70,1441.20H164.00H167.50V1442.45H171.00V1443.70H174.25V1448.70H177.50V1453.70H180.00V1456.85H182.50V1460.00H185.00V1461.25H187.50V1462.50H195.00H197.50V1467.50H200.00V1472.50H203.00V1474.10H206.00V1475.70H208.50V1477.20H211.00V1478.70H213.25V1484.10H215.50V1489.50H363.50" fill="none" stroke="#732c84" stroke-width="1.55" stroke-linejoin="miter"/>
<path d="M160.00,1438.40v5.60M162.60,1438.40v5.60M165.20,1438.83v5.60M167.80,1439.76v5.60M170.40,1440.69v5.60M173.00,1443.98v5.60M175.60,1447.98v5.60M178.20,1451.78v5.60M180.80,1455.06v5.60M183.40,1457.65v5.60M186.00,1458.95v5.60M188.60,1459.70v5.60M191.20,1459.70v5.60M193.80,1459.70v5.60M196.40,1462.50v5.60M199.00,1467.70v5.60M201.60,1470.55v5.60M204.20,1471.94v5.60M206.80,1473.38v5.60M209.40,1474.94v5.60M212.00,1478.30v5.60M214.60,1484.54v5.60M218.70,1486.70v5.60M221.00,1486.70v5.60M223.70,1486.70v5.60M227.50,1486.70v5.60M235.00,1486.70v5.60M237.00,1486.70v5.60M243.70,1486.70v5.60M248.70,1486.70v5.60M251.00,1486.70v5.60M253.00,1486.70v5.60M256.00,1486.70v5.60M265.00,1486.70v5.60M267.50,1486.70v5.60M271.00,1486.70v5.60M275.00,1486.70v5.60M279.50,1486.70v5.60M287.00,1486.70v5.60M294.50,1486.70v5.60M302.50,1486.70v5.60M363.00,1486.70v5.60" fill="none" stroke="#732c84" stroke-width="1.0"/>
<path d="M158.70,1441.20H166.00H169.00V1442.03H172.00V1442.87H175.00V1443.70H177.81V1444.01H180.62V1444.33H183.44V1444.64H186.25V1444.95H189.06V1445.26H191.88V1445.58H194.69V1445.89H197.50V1446.20H200.62V1446.90H203.75V1447.60H206.88V1448.30H210.00V1449.00H327.30V1479.00H394.60" fill="none" stroke="#1b7f41" stroke-width="1.55" stroke-linejoin="miter"/>
<path d="M159.00,1438.40v5.60M161.20,1438.40v5.60M163.40,1438.40v5.60M165.60,1438.40v5.60M167.80,1438.90v5.60M170.00,1439.51v5.60M172.20,1440.12v5.60M174.40,1440.73v5.60M176.60,1441.08v5.60M178.80,1441.32v5.60M181.00,1441.57v5.60M183.20,1441.81v5.60M185.40,1442.06v5.60M187.60,1442.30v5.60M189.80,1442.54v5.60M192.00,1442.79v5.60M194.20,1443.03v5.60M196.40,1443.28v5.60M198.60,1443.65v5.60M200.80,1444.14v5.60M203.00,1444.63v5.60M205.20,1445.12v5.60M207.40,1445.62v5.60M209.60,1446.11v5.60M213.70,1446.20v5.60M220.00,1446.20v5.60M222.50,1446.20v5.60M231.00,1446.20v5.60M234.00,1446.20v5.60M236.00,1446.20v5.60M239.00,1446.20v5.60M240.80,1446.20v5.60M242.60,1446.20v5.60M244.40,1446.20v5.60M246.20,1446.20v5.60M248.00,1446.20v5.60M249.80,1446.20v5.60M251.60,1446.20v5.60M253.40,1446.20v5.60M257.50,1446.20v5.60M261.00,1446.20v5.60M263.70,1446.20v5.60M271.00,1446.20v5.60M272.50,1446.20v5.60M274.00,1446.20v5.60M281.00,1446.20v5.60M283.70,1446.20v5.60M286.00,1446.20v5.60M288.70,1446.20v5.60M292.50,1446.20v5.60M294.00,1446.20v5.60M295.50,1446.20v5.60M297.00,1446.20v5.60M298.50,1446.20v5.60M300.00,1446.20v5.60M310.00,1446.20v5.60M312.00,1446.20v5.60M317.50,1446.20v5.60M332.50,1476.20v5.60M337.50,1476.20v5.60M340.00,1476.20v5.60M394.20,1476.20v5.60" fill="none" stroke="#1b7f41" stroke-width="1.0"/>
<text x="331.00" y="1543.20" font-size="8.5" stroke="#231f20" stroke-width="0.18" xml:space="preserve"><tspan font-style="italic">P</tspan> = 0.00012</text>
<text x="199.50" y="1559.30" font-size="8.5" text-anchor="middle" stroke="#231f20" stroke-width="0.18">epiR-NK4 score</text>
<line x1="158.90" y1="1562.90" x2="240.40" y2="1562.90" stroke="#555555" stroke-width="1.3"/>
<line x1="160.10" y1="1573.30" x2="170.90" y2="1573.30" stroke="#1b7f41" stroke-width="1.5"/>
<line x1="160.10" y1="1584.40" x2="170.90" y2="1584.40" stroke="#732c84" stroke-width="1.5"/>
<text x="176.00" y="1575.80" font-size="8.5" stroke="#231f20" stroke-width="0.18" xml:space="preserve">High (<tspan font-style="italic">n</tspan> = 109)</text>
<text x="176.00" y="1586.70" font-size="8.5" stroke="#231f20" stroke-width="0.18" xml:space="preserve">Low (<tspan font-style="italic">n</tspan> = 76)</text>
</svg>
</body></html>
